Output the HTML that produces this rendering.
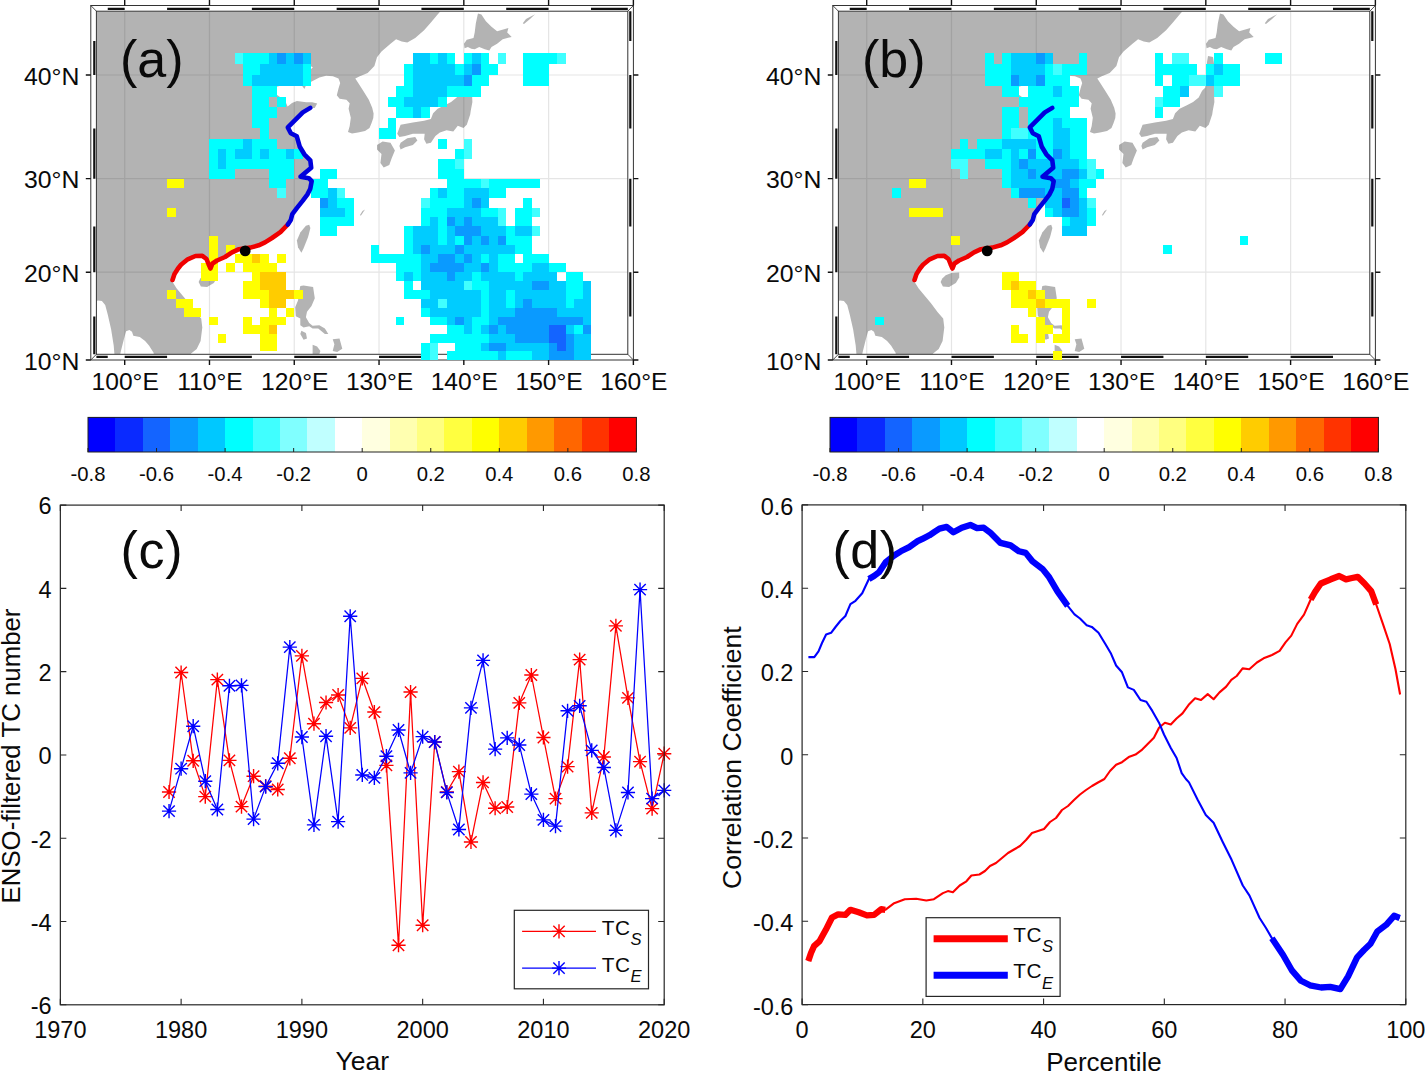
<!DOCTYPE html><html><head><meta charset="utf-8"><style>html,body{margin:0;padding:0;background:#fff;}svg{display:block;}</style></head><body>
<svg width="1425" height="1071" viewBox="0 0 1425 1071" font-family='"Liberation Sans", sans-serif'>
<rect width="1425" height="1071" fill="#fff"/>
<g>
<clipPath id="clipa"><rect x="96.4" y="11.2" width="531.4" height="343.1"/></clipPath>
<g clip-path="url(#clipa)">
<path d="M96.4 11.2 L440.5 11.2 L437.6 14.5 L430.9 22.4 L424.1 30.2 L415.2 38.1 L407.3 42.6 L401.7 41.4 L396.1 39.2 L390.5 43.7 L381.5 51.5 L377 57.2 L374.4 66.1 L367.7 72.9 L359.8 76.2 L355.3 78.5 L357.6 81.9 L363.2 90.8 L368.8 99.8 L372.2 107.7 L373.6 113.5 L373.3 118 L371.4 123.6 L369.5 128 L365 131 L358 132.5 L352 133.5 L348 132 L349.7 126 L350.8 117.8 L348.6 108.8 L349.7 103.2 L346.4 99.8 L339.6 98.7 L336.8 95.3 L338.5 88.6 L340.2 83 L338.5 78.5 L332.9 76.2 L326.1 75.7 L319.4 77.4 L310.7 81.9 L307 83 L304.4 88.9 L301.5 85 L304 76 L310 70 L312.9 67.2 L308 65 L303.6 66.1 L298 70 L292.4 76.2 L283 85 L274.8 87.2 L275.7 93.9 L280 97 L285 100.4 L287.6 106.4 L292 103 L296.9 101 L306.2 102.2 L312.2 102.2 L317.2 103.4 L314.7 108 L310.3 107.9 L302.8 112.4 L295.3 119.9 L287.8 127.4 L290.8 133.3 L296.8 136.3 L299.8 146.8 L304.3 154.3 L310.3 160.3 L311.7 167.7 L305.8 172.2 L299.8 176.7 L308.8 178.2 L311.7 181.2 L310.3 188.7 L307.3 194.6 L302.8 200.6 L296.8 208.1 L292.3 214.1 L290.8 220 L287.8 224.5 L280.4 232 L269.9 239.5 L259.4 245.5 L249 248.4 L240.5 250.1 L233.7 253.5 L224.7 258 L218 260.2 L213 263.6 L210.7 269.2 L209 264.7 L206.8 259.1 L202.3 255.7 L195.5 255.7 L187.7 259.1 L181 264.7 L175.3 272.6 L172 280.4 L173.1 282.7 L176.5 288.3 L182.1 295 L188.8 302.9 L195.5 311.9 L201.2 318.6 L202.3 327.6 L200.6 341.1 L196.7 348.9 L191.1 353.4 L190.5 354.3 L153.8 354.3 L153.6 352.7 L149 345.6 L145.1 341 L139.8 337.1 L133.3 335.8 L132 331.8 L129.4 329.9 L126.1 331.2 L124.8 335.8 L122.8 343.6 L120.5 352.7 L120.3 354.3 L114.4 354.3 L114.3 352.7 L113.7 345.6 L111.1 329.2 L107.8 314.8 L105.2 305 L101.9 301.1 L98 300.5 L96.4 301Z" fill="#b3b3b3"/>
<path d="M466 56 L471 57 L473 70 L473 87 L472 94 L472.4 102 L470.7 111 L470.2 114.6 L466.8 124.7 L463.4 128.1 L457.8 125.8 L453.3 131.4 L446.6 130.3 L439.9 132.6 L435.4 135.9 L430.9 142.7 L426.4 143.8 L424.1 139.3 L424.7 133.7 L419.7 133.7 L412.9 133.7 L405.1 135.9 L399.4 137.1 L397.2 133.7 L400.6 124.7 L412.9 122.5 L424.1 120.8 L430.9 119.1 L433.1 113.3 L437.6 108.8 L444.4 105.4 L451.1 102.1 L456.7 97.6 L460.1 90.8 L463.4 87.5 L464 75 L465 62Z" fill="#b3b3b3"/>
<path d="M478 13.4 L481.4 14.5 L485.9 21.2 L491.5 26.8 L497.1 31.3 L505 29.1 L508.4 28 L507.2 32.5 L511.7 36.9 L502.7 39.2 L497.1 43.7 L491.5 47.1 L489.3 50.4 L484.8 49.3 L479.2 47.1 L474.7 49.3 L471.3 48.7 L467.9 47.1 L464.6 48.2 L464 43.7 L466.8 39.8 L473.5 38.1 L474.7 32.5 L475.8 23.5 L477.5 15.6Z" fill="#b3b3b3"/>
<path d="M400.6 142.7 L407.3 138.2 L415.2 137.1 L417.4 140.4 L412.9 144.9 L405.1 147.2 L400.6 149.4 L399.4 146Z" fill="#b3b3b3"/>
<path d="M377 144.9 L382.6 141.5 L390.5 142.7 L394.9 150.5 L391.6 158.4 L389.3 165.1 L383.7 167.4 L380.4 162.9 L381.5 153.9 L377 149.4Z" fill="#b3b3b3"/>
<path d="M309.2 224.7 L310.4 228.1 L308.1 237.1 L303.6 248.3 L301.4 252.8 L298 247.2 L296.9 240.4 L300.3 232.6 L305.9 225.8Z" fill="#b3b3b3"/>
<path d="M200.3 278.6 L203.7 275.2 L209.3 273 L217.2 272.4 L217.2 277.5 L213.8 283.1 L207.1 287 L200.9 286.5 L198.6 282Z" fill="#b3b3b3"/>
<path d="M300.3 285.9 L303.6 285.4 L313.1 287.1 L314.8 298.3 L311.5 306.1 L307 311.7 L305.9 317.3 L309.2 322.9 L312.6 325.7 L319.3 325.2 L324.9 328.5 L328.3 334.1 L324.9 334.1 L318.2 328.5 L312.6 328.5 L309.2 326.3 L303.6 327.4 L300.3 325.2 L300.3 318.4 L295.8 316.2 L295.2 307.2 L298 300.5 L299.1 292.7Z" fill="#b3b3b3"/>
<path d="M301.4 330.8 L305.9 333 L307 338.6 L303.6 339.7 L300.3 334.1Z" fill="#b3b3b3"/>
<path d="M312.6 344.8 L317.1 346.4 L320.4 350.9 L319.3 354.3 L312.6 354.3Z" fill="#b3b3b3"/>
<path d="M332.7 339.2 L339.5 338.6 L342.3 348.7 L337.2 352 L332.7 350.9 L334.4 344.2Z" fill="#b3b3b3"/>
<path d="M522.8 23.2 L526 19 L535.1 14.2 L530 19 L524 24Z" fill="#b3b3b3"/>
<path d="M360 215 L362.5 211 L365 209.5 L363 212.5 L360.8 215.8Z" fill="#b3b3b3"/>
<path d="M124.7 11.2V354.3 M209.48 11.2V354.3 M294.26 11.2V354.3 M379.04 11.2V354.3 M463.82 11.2V354.3 M548.6 11.2V354.3 M96.4 272.22H627.8 M96.4 178.63H627.8 M96.4 75.01H627.8" stroke="#262626" stroke-width="1.2" fill="none" opacity="0.12"/>
</g>
<rect x="90.8" y="5.5" width="542.6" height="354.5" fill="none" stroke="#333" stroke-width="1"/>
<rect x="96.4" y="11.2" width="531.4" height="343.1" fill="none" stroke="#333" stroke-width="1"/>
<path d="M96.4 356.9H107.74 M124.7 356.9H167.09 M209.48 356.9H251.87 M294.26 356.9H336.65 M379.04 356.9H421.43 M463.82 356.9H506.21 M548.6 356.9H590.99 M107.74 8.8H124.7 M167.09 8.8H209.48 M251.87 8.8H294.26 M336.65 8.8H379.04 M421.43 8.8H463.82 M506.21 8.8H548.6 M590.99 8.8H627.8 M94.3 354.3V316.62 M94.3 272.22V226.38 M94.3 178.63V128.41 M94.3 75.01V41.09 M630.3 316.62V272.22 M630.3 226.38V178.63 M630.3 128.41V75.01 M630.3 41.09V11.2" stroke="#111" stroke-width="2.2" fill="none"/>
<path d="M90.8 5.5L96.4 11.2 M633.4 5.5L627.8 11.2 M90.8 360L96.4 354.3 M633.4 360L627.8 354.3" stroke="#3a3a3a" stroke-width="0.9"/>
<path d="M124.7 360V365 M124.7 5.5V0 M209.48 360V365 M209.48 5.5V0 M294.26 360V365 M294.26 5.5V0 M379.04 360V365 M379.04 5.5V0 M463.82 360V365 M463.82 5.5V0 M548.6 360V365 M548.6 5.5V0 M633.38 360V365 M633.38 5.5V0 M90.8 360H85.8 M633.4 360H638.4 M90.8 272.22H85.8 M633.4 272.22H638.4 M90.8 178.63H85.8 M633.4 178.63H638.4 M90.8 75.01H85.8 M633.4 75.01H638.4" stroke="#111" stroke-width="1.4" fill="none"/>
</g>
<g><path d="M234.91 52.57H243.39V63.88H234.91ZM277.3 188.36H285.78V197.99H277.3ZM336.65 188.36H345.13V197.99H336.65ZM497.73 52.57H506.21V63.88H497.73ZM557.08 52.57H565.56V63.88H557.08ZM463.82 138.68H472.3V148.84H463.82ZM463.82 148.84H472.3V158.87H463.82ZM455.34 158.87H463.82V168.8H455.34ZM480.78 178.63H489.25V188.36H480.78ZM421.43 197.99H429.91V207.54H421.43ZM497.73 207.54H506.21V217H497.73ZM531.64 207.54H540.12V217H531.64ZM497.73 217H506.21V226.38H497.73ZM531.64 226.38H540.12V235.68H531.64ZM463.82 281.2H472.3V290.13H463.82ZM438.39 299.01H446.86V307.84H438.39ZM429.91 342.75H438.39V351.39H429.91ZM429.91 351.39H438.39V360H429.91Z" fill="#40ffff" shape-rendering="crispEdges"/><path d="M243.39 52.57H251.87V63.88H243.39ZM251.87 52.57H260.35V63.88H251.87ZM260.35 52.57H268.83V63.88H260.35ZM243.39 63.88H251.87V75.01H243.39ZM251.87 63.88H260.35V75.01H251.87ZM302.74 63.88H311.22V75.01H302.74ZM243.39 75.01H251.87V85.98H243.39ZM302.74 75.01H311.22V85.98H302.74ZM251.87 85.98H260.35V96.8H251.87ZM260.35 85.98H268.83V96.8H260.35ZM268.83 85.98H277.3V96.8H268.83ZM251.87 96.8H260.35V107.48H251.87ZM260.35 96.8H268.83V107.48H260.35ZM277.3 96.8H285.78V107.48H277.3ZM251.87 107.48H260.35V118.01H251.87ZM260.35 107.48H268.83V118.01H260.35ZM268.83 107.48H277.3V118.01H268.83ZM251.87 118.01H260.35V128.41H251.87ZM260.35 118.01H268.83V128.41H260.35ZM260.35 128.41H268.83V138.68H260.35ZM209.48 138.68H217.96V148.84H209.48ZM217.96 138.68H226.44V148.84H217.96ZM226.44 138.68H234.91V148.84H226.44ZM234.91 138.68H243.39V148.84H234.91ZM251.87 138.68H260.35V148.84H251.87ZM260.35 138.68H268.83V148.84H260.35ZM268.83 138.68H277.3V148.84H268.83ZM209.48 148.84H217.96V158.87H209.48ZM226.44 148.84H234.91V158.87H226.44ZM251.87 148.84H260.35V158.87H251.87ZM268.83 148.84H277.3V158.87H268.83ZM277.3 148.84H285.78V158.87H277.3ZM294.26 148.84H302.74V158.87H294.26ZM209.48 158.87H217.96V168.8H209.48ZM226.44 158.87H234.91V168.8H226.44ZM234.91 158.87H243.39V168.8H234.91ZM243.39 158.87H251.87V168.8H243.39ZM251.87 158.87H260.35V168.8H251.87ZM260.35 158.87H268.83V168.8H260.35ZM268.83 158.87H277.3V168.8H268.83ZM277.3 158.87H285.78V168.8H277.3ZM285.78 158.87H294.26V168.8H285.78ZM209.48 168.8H217.96V178.63H209.48ZM217.96 168.8H226.44V178.63H217.96ZM226.44 168.8H234.91V178.63H226.44ZM268.83 168.8H277.3V178.63H268.83ZM277.3 168.8H285.78V178.63H277.3ZM285.78 168.8H294.26V178.63H285.78ZM268.83 178.63H277.3V188.36H268.83ZM277.3 178.63H285.78V188.36H277.3ZM319.69 168.8H328.17V178.63H319.69ZM328.17 168.8H336.65V178.63H328.17ZM311.22 178.63H319.69V188.36H311.22ZM319.69 178.63H328.17V188.36H319.69ZM311.22 188.36H319.69V197.99H311.22ZM319.69 188.36H328.17V197.99H319.69ZM336.65 197.99H345.13V207.54H336.65ZM345.13 197.99H353.61V207.54H345.13ZM345.13 207.54H353.61V217H345.13ZM319.69 217H328.17V226.38H319.69ZM328.17 217H336.65V226.38H328.17ZM336.65 217H345.13V226.38H336.65ZM345.13 217H353.61V226.38H345.13ZM319.69 226.38H328.17V235.68H319.69ZM328.17 226.38H336.65V235.68H328.17ZM429.91 52.57H438.39V63.88H429.91ZM446.86 52.57H455.34V63.88H446.86ZM463.82 52.57H472.3V63.88H463.82ZM480.78 52.57H489.25V63.88H480.78ZM523.17 52.57H531.64V63.88H523.17ZM531.64 52.57H540.12V63.88H531.64ZM540.12 52.57H548.6V63.88H540.12ZM548.6 52.57H557.08V63.88H548.6ZM404.47 63.88H412.95V75.01H404.47ZM455.34 63.88H463.82V75.01H455.34ZM480.78 63.88H489.25V75.01H480.78ZM489.25 63.88H497.73V75.01H489.25ZM523.17 63.88H531.64V75.01H523.17ZM531.64 63.88H540.12V75.01H531.64ZM540.12 63.88H548.6V75.01H540.12ZM404.47 75.01H412.95V85.98H404.47ZM472.3 75.01H480.78V85.98H472.3ZM480.78 75.01H489.25V85.98H480.78ZM523.17 75.01H531.64V85.98H523.17ZM531.64 75.01H540.12V85.98H531.64ZM540.12 75.01H548.6V85.98H540.12ZM396 85.98H404.47V96.8H396ZM404.47 85.98H412.95V96.8H404.47ZM446.86 85.98H455.34V96.8H446.86ZM455.34 85.98H463.82V96.8H455.34ZM463.82 85.98H472.3V96.8H463.82ZM472.3 85.98H480.78V96.8H472.3ZM387.52 96.8H396V107.48H387.52ZM396 96.8H404.47V107.48H396ZM438.39 96.8H446.86V107.48H438.39ZM396 107.48H404.47V118.01H396ZM404.47 107.48H412.95V118.01H404.47ZM421.43 107.48H429.91V118.01H421.43ZM387.52 118.01H396V128.41H387.52ZM379.04 128.41H387.52V138.68H379.04ZM387.52 128.41H396V138.68H387.52ZM438.39 138.68H446.86V148.84H438.39ZM455.34 148.84H463.82V158.87H455.34ZM438.39 158.87H446.86V168.8H438.39ZM446.86 158.87H455.34V168.8H446.86ZM438.39 168.8H446.86V178.63H438.39ZM446.86 168.8H455.34V178.63H446.86ZM455.34 168.8H463.82V178.63H455.34ZM446.86 178.63H455.34V188.36H446.86ZM455.34 178.63H463.82V188.36H455.34ZM463.82 178.63H472.3V188.36H463.82ZM472.3 178.63H480.78V188.36H472.3ZM489.25 178.63H497.73V188.36H489.25ZM497.73 178.63H506.21V188.36H497.73ZM506.21 178.63H514.69V188.36H506.21ZM514.69 178.63H523.17V188.36H514.69ZM523.17 178.63H531.64V188.36H523.17ZM531.64 178.63H540.12V188.36H531.64ZM429.91 188.36H438.39V197.99H429.91ZM446.86 188.36H455.34V197.99H446.86ZM455.34 188.36H463.82V197.99H455.34ZM489.25 188.36H497.73V197.99H489.25ZM497.73 188.36H506.21V197.99H497.73ZM429.91 197.99H438.39V207.54H429.91ZM438.39 197.99H446.86V207.54H438.39ZM446.86 197.99H455.34V207.54H446.86ZM455.34 197.99H463.82V207.54H455.34ZM523.17 197.99H531.64V207.54H523.17ZM421.43 207.54H429.91V217H421.43ZM429.91 207.54H438.39V217H429.91ZM438.39 207.54H446.86V217H438.39ZM480.78 207.54H489.25V217H480.78ZM489.25 207.54H497.73V217H489.25ZM514.69 207.54H523.17V217H514.69ZM523.17 207.54H531.64V217H523.17ZM421.43 217H429.91V226.38H421.43ZM438.39 217H446.86V226.38H438.39ZM514.69 217H523.17V226.38H514.69ZM523.17 217H531.64V226.38H523.17ZM404.47 226.38H412.95V235.68H404.47ZM438.39 226.38H446.86V235.68H438.39ZM506.21 226.38H514.69V235.68H506.21ZM404.47 235.68H412.95V244.92H404.47ZM438.39 235.68H446.86V244.92H438.39ZM455.34 235.68H463.82V244.92H455.34ZM506.21 235.68H514.69V244.92H506.21ZM514.69 235.68H523.17V244.92H514.69ZM523.17 235.68H531.64V244.92H523.17ZM370.56 244.92H379.04V254.08H370.56ZM404.47 244.92H412.95V254.08H404.47ZM514.69 244.92H523.17V254.08H514.69ZM523.17 244.92H531.64V254.08H523.17ZM370.56 254.08H379.04V263.18H370.56ZM379.04 254.08H387.52V263.18H379.04ZM387.52 254.08H396V263.18H387.52ZM396 254.08H404.47V263.18H396ZM404.47 254.08H412.95V263.18H404.47ZM412.95 254.08H421.43V263.18H412.95ZM480.78 254.08H489.25V263.18H480.78ZM497.73 254.08H506.21V263.18H497.73ZM506.21 254.08H514.69V263.18H506.21ZM523.17 254.08H531.64V263.18H523.17ZM531.64 254.08H540.12V263.18H531.64ZM540.12 254.08H548.6V263.18H540.12ZM396 263.18H404.47V272.22H396ZM404.47 263.18H412.95V272.22H404.47ZM412.95 263.18H421.43V272.22H412.95ZM497.73 263.18H506.21V272.22H497.73ZM506.21 263.18H514.69V272.22H506.21ZM514.69 263.18H523.17V272.22H514.69ZM523.17 263.18H531.64V272.22H523.17ZM548.6 263.18H557.08V272.22H548.6ZM557.08 263.18H565.56V272.22H557.08ZM396 272.22H404.47V281.2H396ZM412.95 272.22H421.43V281.2H412.95ZM472.3 272.22H480.78V281.2H472.3ZM514.69 272.22H523.17V281.2H514.69ZM565.56 272.22H574.03V281.2H565.56ZM574.03 272.22H582.51V281.2H574.03ZM404.47 281.2H412.95V290.13H404.47ZM472.3 281.2H480.78V290.13H472.3ZM480.78 281.2H489.25V290.13H480.78ZM565.56 281.2H574.03V290.13H565.56ZM574.03 281.2H582.51V290.13H574.03ZM404.47 290.13H412.95V299.01H404.47ZM412.95 290.13H421.43V299.01H412.95ZM421.43 290.13H429.91V299.01H421.43ZM480.78 290.13H489.25V299.01H480.78ZM506.21 290.13H514.69V299.01H506.21ZM565.56 290.13H574.03V299.01H565.56ZM574.03 290.13H582.51V299.01H574.03ZM480.78 299.01H489.25V307.84H480.78ZM506.21 299.01H514.69V307.84H506.21ZM565.56 299.01H574.03V307.84H565.56ZM421.43 307.84H429.91V316.62H421.43ZM480.78 307.84H489.25V316.62H480.78ZM396 316.62H404.47V325.37H396ZM429.91 316.62H438.39V325.37H429.91ZM438.39 316.62H446.86V325.37H438.39ZM472.3 316.62H480.78V325.37H472.3ZM480.78 316.62H489.25V325.37H480.78ZM446.86 325.37H455.34V334.08H446.86ZM455.34 325.37H463.82V334.08H455.34ZM472.3 325.37H480.78V334.08H472.3ZM574.03 325.37H582.51V334.08H574.03ZM429.91 334.08H438.39V342.75H429.91ZM438.39 334.08H446.86V342.75H438.39ZM446.86 334.08H455.34V342.75H446.86ZM455.34 334.08H463.82V342.75H455.34ZM463.82 334.08H472.3V342.75H463.82ZM472.3 334.08H480.78V342.75H472.3ZM480.78 334.08H489.25V342.75H480.78ZM421.43 342.75H429.91V351.39H421.43ZM455.34 342.75H463.82V351.39H455.34ZM463.82 342.75H472.3V351.39H463.82ZM472.3 342.75H480.78V351.39H472.3ZM421.43 351.39H429.91V360H421.43ZM446.86 351.39H455.34V360H446.86ZM455.34 351.39H463.82V360H455.34ZM463.82 351.39H472.3V360H463.82ZM472.3 351.39H480.78V360H472.3ZM480.78 351.39H489.25V360H480.78ZM489.25 351.39H497.73V360H489.25ZM506.21 351.39H514.69V360H506.21ZM514.69 351.39H523.17V360H514.69ZM523.17 351.39H531.64V360H523.17Z" fill="#00ffff" shape-rendering="crispEdges"/><path d="M268.83 52.57H277.3V63.88H268.83ZM285.78 52.57H294.26V63.88H285.78ZM302.74 52.57H311.22V63.88H302.74ZM260.35 63.88H268.83V75.01H260.35ZM268.83 63.88H277.3V75.01H268.83ZM277.3 63.88H285.78V75.01H277.3ZM285.78 63.88H294.26V75.01H285.78ZM294.26 63.88H302.74V75.01H294.26ZM251.87 75.01H260.35V85.98H251.87ZM260.35 75.01H268.83V85.98H260.35ZM268.83 75.01H277.3V85.98H268.83ZM277.3 75.01H285.78V85.98H277.3ZM285.78 75.01H294.26V85.98H285.78ZM294.26 75.01H302.74V85.98H294.26ZM243.39 138.68H251.87V148.84H243.39ZM217.96 148.84H226.44V158.87H217.96ZM234.91 148.84H243.39V158.87H234.91ZM243.39 148.84H251.87V158.87H243.39ZM260.35 148.84H268.83V158.87H260.35ZM285.78 148.84H294.26V158.87H285.78ZM217.96 158.87H226.44V168.8H217.96ZM328.17 188.36H336.65V197.99H328.17ZM328.17 197.99H336.65V207.54H328.17ZM319.69 207.54H328.17V217H319.69ZM328.17 207.54H336.65V217H328.17ZM336.65 207.54H345.13V217H336.65ZM412.95 52.57H421.43V63.88H412.95ZM421.43 52.57H429.91V63.88H421.43ZM438.39 52.57H446.86V63.88H438.39ZM472.3 52.57H480.78V63.88H472.3ZM412.95 63.88H421.43V75.01H412.95ZM421.43 63.88H429.91V75.01H421.43ZM429.91 63.88H438.39V75.01H429.91ZM438.39 63.88H446.86V75.01H438.39ZM446.86 63.88H455.34V75.01H446.86ZM463.82 63.88H472.3V75.01H463.82ZM412.95 75.01H421.43V85.98H412.95ZM421.43 75.01H429.91V85.98H421.43ZM429.91 75.01H438.39V85.98H429.91ZM438.39 75.01H446.86V85.98H438.39ZM446.86 75.01H455.34V85.98H446.86ZM455.34 75.01H463.82V85.98H455.34ZM412.95 85.98H421.43V96.8H412.95ZM421.43 85.98H429.91V96.8H421.43ZM429.91 85.98H438.39V96.8H429.91ZM438.39 85.98H446.86V96.8H438.39ZM404.47 96.8H412.95V107.48H404.47ZM412.95 96.8H421.43V107.48H412.95ZM421.43 96.8H429.91V107.48H421.43ZM429.91 96.8H438.39V107.48H429.91ZM412.95 107.48H421.43V118.01H412.95ZM438.39 188.36H446.86V197.99H438.39ZM463.82 188.36H472.3V197.99H463.82ZM472.3 188.36H480.78V197.99H472.3ZM480.78 188.36H489.25V197.99H480.78ZM463.82 197.99H472.3V207.54H463.82ZM480.78 197.99H489.25V207.54H480.78ZM446.86 207.54H455.34V217H446.86ZM455.34 207.54H463.82V217H455.34ZM463.82 207.54H472.3V217H463.82ZM472.3 207.54H480.78V217H472.3ZM429.91 217H438.39V226.38H429.91ZM455.34 217H463.82V226.38H455.34ZM472.3 217H480.78V226.38H472.3ZM480.78 217H489.25V226.38H480.78ZM489.25 217H497.73V226.38H489.25ZM412.95 226.38H421.43V235.68H412.95ZM421.43 226.38H429.91V235.68H421.43ZM429.91 226.38H438.39V235.68H429.91ZM446.86 226.38H455.34V235.68H446.86ZM480.78 226.38H489.25V235.68H480.78ZM489.25 226.38H497.73V235.68H489.25ZM497.73 226.38H506.21V235.68H497.73ZM514.69 226.38H523.17V235.68H514.69ZM523.17 226.38H531.64V235.68H523.17ZM412.95 235.68H421.43V244.92H412.95ZM421.43 235.68H429.91V244.92H421.43ZM429.91 235.68H438.39V244.92H429.91ZM446.86 235.68H455.34V244.92H446.86ZM472.3 235.68H480.78V244.92H472.3ZM489.25 235.68H497.73V244.92H489.25ZM412.95 244.92H421.43V254.08H412.95ZM429.91 244.92H438.39V254.08H429.91ZM438.39 244.92H446.86V254.08H438.39ZM446.86 244.92H455.34V254.08H446.86ZM463.82 244.92H472.3V254.08H463.82ZM472.3 244.92H480.78V254.08H472.3ZM480.78 244.92H489.25V254.08H480.78ZM489.25 244.92H497.73V254.08H489.25ZM497.73 244.92H506.21V254.08H497.73ZM506.21 244.92H514.69V254.08H506.21ZM421.43 254.08H429.91V263.18H421.43ZM429.91 254.08H438.39V263.18H429.91ZM455.34 254.08H463.82V263.18H455.34ZM472.3 254.08H480.78V263.18H472.3ZM489.25 254.08H497.73V263.18H489.25ZM421.43 263.18H429.91V272.22H421.43ZM463.82 263.18H472.3V272.22H463.82ZM472.3 263.18H480.78V272.22H472.3ZM489.25 263.18H497.73V272.22H489.25ZM531.64 263.18H540.12V272.22H531.64ZM540.12 263.18H548.6V272.22H540.12ZM404.47 272.22H412.95V281.2H404.47ZM421.43 272.22H429.91V281.2H421.43ZM429.91 272.22H438.39V281.2H429.91ZM438.39 272.22H446.86V281.2H438.39ZM455.34 272.22H463.82V281.2H455.34ZM463.82 272.22H472.3V281.2H463.82ZM480.78 272.22H489.25V281.2H480.78ZM489.25 272.22H497.73V281.2H489.25ZM497.73 272.22H506.21V281.2H497.73ZM506.21 272.22H514.69V281.2H506.21ZM523.17 272.22H531.64V281.2H523.17ZM531.64 272.22H540.12V281.2H531.64ZM540.12 272.22H548.6V281.2H540.12ZM548.6 272.22H557.08V281.2H548.6ZM421.43 281.2H429.91V290.13H421.43ZM429.91 281.2H438.39V290.13H429.91ZM438.39 281.2H446.86V290.13H438.39ZM446.86 281.2H455.34V290.13H446.86ZM455.34 281.2H463.82V290.13H455.34ZM489.25 281.2H497.73V290.13H489.25ZM497.73 281.2H506.21V290.13H497.73ZM506.21 281.2H514.69V290.13H506.21ZM514.69 281.2H523.17V290.13H514.69ZM523.17 281.2H531.64V290.13H523.17ZM548.6 281.2H557.08V290.13H548.6ZM557.08 281.2H565.56V290.13H557.08ZM582.51 281.2H590.99V290.13H582.51ZM429.91 290.13H438.39V299.01H429.91ZM438.39 290.13H446.86V299.01H438.39ZM446.86 290.13H455.34V299.01H446.86ZM455.34 290.13H463.82V299.01H455.34ZM463.82 290.13H472.3V299.01H463.82ZM472.3 290.13H480.78V299.01H472.3ZM489.25 290.13H497.73V299.01H489.25ZM497.73 290.13H506.21V299.01H497.73ZM514.69 290.13H523.17V299.01H514.69ZM523.17 290.13H531.64V299.01H523.17ZM531.64 290.13H540.12V299.01H531.64ZM540.12 290.13H548.6V299.01H540.12ZM548.6 290.13H557.08V299.01H548.6ZM557.08 290.13H565.56V299.01H557.08ZM582.51 290.13H590.99V299.01H582.51ZM421.43 299.01H429.91V307.84H421.43ZM429.91 299.01H438.39V307.84H429.91ZM446.86 299.01H455.34V307.84H446.86ZM455.34 299.01H463.82V307.84H455.34ZM463.82 299.01H472.3V307.84H463.82ZM472.3 299.01H480.78V307.84H472.3ZM489.25 299.01H497.73V307.84H489.25ZM497.73 299.01H506.21V307.84H497.73ZM514.69 299.01H523.17V307.84H514.69ZM531.64 299.01H540.12V307.84H531.64ZM540.12 299.01H548.6V307.84H540.12ZM548.6 299.01H557.08V307.84H548.6ZM557.08 299.01H565.56V307.84H557.08ZM574.03 299.01H582.51V307.84H574.03ZM582.51 299.01H590.99V307.84H582.51ZM429.91 307.84H438.39V316.62H429.91ZM438.39 307.84H446.86V316.62H438.39ZM446.86 307.84H455.34V316.62H446.86ZM455.34 307.84H463.82V316.62H455.34ZM463.82 307.84H472.3V316.62H463.82ZM472.3 307.84H480.78V316.62H472.3ZM489.25 307.84H497.73V316.62H489.25ZM497.73 307.84H506.21V316.62H497.73ZM506.21 307.84H514.69V316.62H506.21ZM557.08 307.84H565.56V316.62H557.08ZM565.56 307.84H574.03V316.62H565.56ZM574.03 307.84H582.51V316.62H574.03ZM582.51 307.84H590.99V316.62H582.51ZM446.86 316.62H455.34V325.37H446.86ZM463.82 316.62H472.3V325.37H463.82ZM489.25 316.62H497.73V325.37H489.25ZM582.51 316.62H590.99V325.37H582.51ZM463.82 325.37H472.3V334.08H463.82ZM480.78 325.37H489.25V334.08H480.78ZM497.73 325.37H506.21V334.08H497.73ZM565.56 325.37H574.03V334.08H565.56ZM489.25 334.08H497.73V342.75H489.25ZM497.73 334.08H506.21V342.75H497.73ZM506.21 334.08H514.69V342.75H506.21ZM574.03 334.08H582.51V342.75H574.03ZM582.51 334.08H590.99V342.75H582.51ZM480.78 342.75H489.25V351.39H480.78ZM506.21 342.75H514.69V351.39H506.21ZM514.69 342.75H523.17V351.39H514.69ZM523.17 342.75H531.64V351.39H523.17ZM531.64 342.75H540.12V351.39H531.64ZM540.12 342.75H548.6V351.39H540.12ZM574.03 342.75H582.51V351.39H574.03ZM582.51 342.75H590.99V351.39H582.51ZM497.73 351.39H506.21V360H497.73ZM531.64 351.39H540.12V360H531.64ZM540.12 351.39H548.6V360H540.12ZM574.03 351.39H582.51V360H574.03ZM582.51 351.39H590.99V360H582.51Z" fill="#00ccff" shape-rendering="crispEdges"/><path d="M277.3 52.57H285.78V63.88H277.3ZM294.26 52.57H302.74V63.88H294.26ZM319.69 197.99H328.17V207.54H319.69ZM472.3 63.88H480.78V75.01H472.3ZM463.82 75.01H472.3V85.98H463.82ZM472.3 197.99H480.78V207.54H472.3ZM446.86 217H455.34V226.38H446.86ZM463.82 217H472.3V226.38H463.82ZM455.34 226.38H463.82V235.68H455.34ZM463.82 226.38H472.3V235.68H463.82ZM472.3 226.38H480.78V235.68H472.3ZM463.82 235.68H472.3V244.92H463.82ZM480.78 235.68H489.25V244.92H480.78ZM497.73 235.68H506.21V244.92H497.73ZM421.43 244.92H429.91V254.08H421.43ZM455.34 244.92H463.82V254.08H455.34ZM438.39 254.08H446.86V263.18H438.39ZM446.86 254.08H455.34V263.18H446.86ZM463.82 254.08H472.3V263.18H463.82ZM429.91 263.18H438.39V272.22H429.91ZM438.39 263.18H446.86V272.22H438.39ZM446.86 263.18H455.34V272.22H446.86ZM455.34 263.18H463.82V272.22H455.34ZM480.78 263.18H489.25V272.22H480.78ZM446.86 272.22H455.34V281.2H446.86ZM531.64 281.2H540.12V290.13H531.64ZM540.12 281.2H548.6V290.13H540.12ZM523.17 299.01H531.64V307.84H523.17ZM514.69 307.84H523.17V316.62H514.69ZM523.17 307.84H531.64V316.62H523.17ZM531.64 307.84H540.12V316.62H531.64ZM540.12 307.84H548.6V316.62H540.12ZM548.6 307.84H557.08V316.62H548.6ZM455.34 316.62H463.82V325.37H455.34ZM497.73 316.62H506.21V325.37H497.73ZM506.21 316.62H514.69V325.37H506.21ZM514.69 316.62H523.17V325.37H514.69ZM523.17 316.62H531.64V325.37H523.17ZM531.64 316.62H540.12V325.37H531.64ZM540.12 316.62H548.6V325.37H540.12ZM548.6 316.62H557.08V325.37H548.6ZM557.08 316.62H565.56V325.37H557.08ZM565.56 316.62H574.03V325.37H565.56ZM574.03 316.62H582.51V325.37H574.03ZM489.25 325.37H497.73V334.08H489.25ZM506.21 325.37H514.69V334.08H506.21ZM514.69 325.37H523.17V334.08H514.69ZM523.17 325.37H531.64V334.08H523.17ZM531.64 325.37H540.12V334.08H531.64ZM540.12 325.37H548.6V334.08H540.12ZM582.51 325.37H590.99V334.08H582.51ZM514.69 334.08H523.17V342.75H514.69ZM523.17 334.08H531.64V342.75H523.17ZM531.64 334.08H540.12V342.75H531.64ZM540.12 334.08H548.6V342.75H540.12ZM565.56 334.08H574.03V342.75H565.56ZM489.25 342.75H497.73V351.39H489.25ZM497.73 342.75H506.21V351.39H497.73ZM548.6 342.75H557.08V351.39H548.6ZM565.56 342.75H574.03V351.39H565.56ZM548.6 351.39H557.08V360H548.6ZM557.08 351.39H565.56V360H557.08ZM565.56 351.39H574.03V360H565.56Z" fill="#0a9aff" shape-rendering="crispEdges"/><path d="M548.6 325.37H557.08V334.08H548.6ZM557.08 325.37H565.56V334.08H557.08ZM548.6 334.08H557.08V342.75H548.6ZM557.08 334.08H565.56V342.75H557.08ZM557.08 342.75H565.56V351.39H557.08Z" fill="#1464ff" shape-rendering="crispEdges"/><path d="M167.09 178.63H175.57V188.36H167.09ZM175.57 178.63H184.05V188.36H175.57ZM167.09 207.54H175.57V217H167.09ZM209.48 235.68H217.96V244.92H209.48ZM209.48 244.92H217.96V254.08H209.48ZM226.44 244.92H234.91V254.08H226.44ZM209.48 254.08H217.96V263.18H209.48ZM234.91 254.08H243.39V263.18H234.91ZM243.39 254.08H251.87V263.18H243.39ZM260.35 254.08H268.83V263.18H260.35ZM277.3 254.08H285.78V263.18H277.3ZM201 263.18H209.48V272.22H201ZM209.48 263.18H217.96V272.22H209.48ZM226.44 263.18H234.91V272.22H226.44ZM243.39 263.18H251.87V272.22H243.39ZM251.87 263.18H260.35V272.22H251.87ZM260.35 263.18H268.83V272.22H260.35ZM268.83 263.18H277.3V272.22H268.83ZM201 272.22H209.48V281.2H201ZM209.48 272.22H217.96V281.2H209.48ZM251.87 272.22H260.35V281.2H251.87ZM243.39 281.2H251.87V290.13H243.39ZM251.87 281.2H260.35V290.13H251.87ZM167.09 290.13H175.57V299.01H167.09ZM243.39 290.13H251.87V299.01H243.39ZM251.87 290.13H260.35V299.01H251.87ZM260.35 290.13H268.83V299.01H260.35ZM294.26 290.13H302.74V299.01H294.26ZM175.57 299.01H184.05V307.84H175.57ZM184.05 299.01H192.52V307.84H184.05ZM260.35 299.01H268.83V307.84H260.35ZM184.05 307.84H192.52V316.62H184.05ZM192.52 307.84H201V316.62H192.52ZM268.83 307.84H277.3V316.62H268.83ZM285.78 307.84H294.26V316.62H285.78ZM209.48 316.62H217.96V325.37H209.48ZM243.39 316.62H251.87V325.37H243.39ZM260.35 316.62H268.83V325.37H260.35ZM268.83 316.62H277.3V325.37H268.83ZM277.3 316.62H285.78V325.37H277.3ZM243.39 325.37H251.87V334.08H243.39ZM251.87 325.37H260.35V334.08H251.87ZM260.35 325.37H268.83V334.08H260.35ZM217.96 334.08H226.44V342.75H217.96ZM260.35 334.08H268.83V342.75H260.35ZM268.83 334.08H277.3V342.75H268.83ZM260.35 342.75H268.83V351.39H260.35ZM268.83 342.75H277.3V351.39H268.83Z" fill="#ffff00" shape-rendering="crispEdges"/><path d="M251.87 254.08H260.35V263.18H251.87ZM260.35 272.22H268.83V281.2H260.35ZM268.83 272.22H277.3V281.2H268.83ZM277.3 272.22H285.78V281.2H277.3ZM260.35 281.2H268.83V290.13H260.35ZM268.83 281.2H277.3V290.13H268.83ZM277.3 281.2H285.78V290.13H277.3ZM268.83 290.13H277.3V299.01H268.83ZM277.3 290.13H285.78V299.01H277.3ZM285.78 290.13H294.26V299.01H285.78ZM268.83 299.01H277.3V307.84H268.83ZM277.3 299.01H285.78V307.84H277.3ZM268.83 325.37H277.3V334.08H268.83Z" fill="#ffcc00" shape-rendering="crispEdges"/></g>
<path d="M172.5 280 L174.5 274 L178 268.5 L181 264.7 L187.7 259.3 L195.5 256 L202.3 255.8 L206.5 259 L208.5 264 L210.5 268.5 L212.5 263.5 L217 260.5 L225 257 L232 252.4 L239 249.2 L245 248.2 L250.3 247.6 L258.7 245.3 L265 242.4 L272 238 L280.4 232.2 L287.8 224.5" fill="none" stroke="#f00000" stroke-width="4.6" stroke-linejoin="round" stroke-linecap="round"/>
<path d="M287.8 224.5 L290.8 220 L292.3 214.1 L296.8 208.1 L302.8 200.6 L307.3 194.6 L310.3 188.7 L311.7 181.2 L308.8 178.2 L300.5 176.7 L305.8 172.2 L311.2 167.7 L310.3 160.3 L304.3 154.3 L299.8 146.8 L296.8 136.3 L290.8 133.3 L287.8 127.4 L295.3 119.9 L302.8 112.4 L310.3 107.9" fill="none" stroke="#0000dd" stroke-width="4.6" stroke-linejoin="round" stroke-linecap="round"/>
<circle cx="245.2" cy="250.9" r="5.4" fill="#000"/>
<g font-family='"Liberation Sans", sans-serif' fill="#0a0a0a">
<text x="79.3" y="369.5" font-size="24.8" text-anchor="end">10°N</text>
<text x="79.3" y="281.72" font-size="24.8" text-anchor="end">20°N</text>
<text x="79.3" y="188.13" font-size="24.8" text-anchor="end">30°N</text>
<text x="79.3" y="84.51" font-size="24.8" text-anchor="end">40°N</text>
<text x="125.2" y="390" font-size="24.6" text-anchor="middle">100°E</text>
<text x="209.98" y="390" font-size="24.6" text-anchor="middle">110°E</text>
<text x="294.76" y="390" font-size="24.6" text-anchor="middle">120°E</text>
<text x="379.54" y="390" font-size="24.6" text-anchor="middle">130°E</text>
<text x="464.32" y="390" font-size="24.6" text-anchor="middle">140°E</text>
<text x="549.1" y="390" font-size="24.6" text-anchor="middle">150°E</text>
<text x="633.88" y="390" font-size="24.6" text-anchor="middle">160°E</text>
<text x="120" y="77.2" font-size="52">(a)</text>
</g>
<g shape-rendering="crispEdges"><rect x="88" y="417.4" width="27.72" height="34.6" fill="#0000ff"/><rect x="115.42" y="417.4" width="27.72" height="34.6" fill="#0a2aff"/><rect x="142.84" y="417.4" width="27.72" height="34.6" fill="#1464ff"/><rect x="170.26" y="417.4" width="27.72" height="34.6" fill="#0a9aff"/><rect x="197.68" y="417.4" width="27.72" height="34.6" fill="#00c8ff"/><rect x="225.1" y="417.4" width="27.72" height="34.6" fill="#00ffff"/><rect x="252.52" y="417.4" width="27.72" height="34.6" fill="#40ffff"/><rect x="279.94" y="417.4" width="27.72" height="34.6" fill="#80ffff"/><rect x="307.36" y="417.4" width="27.72" height="34.6" fill="#c0ffff"/><rect x="334.78" y="417.4" width="27.72" height="34.6" fill="#ffffff"/><rect x="362.2" y="417.4" width="27.72" height="34.6" fill="#ffffe0"/><rect x="389.62" y="417.4" width="27.72" height="34.6" fill="#ffffb0"/><rect x="417.04" y="417.4" width="27.72" height="34.6" fill="#ffff80"/><rect x="444.46" y="417.4" width="27.72" height="34.6" fill="#ffff40"/><rect x="471.88" y="417.4" width="27.72" height="34.6" fill="#ffff00"/><rect x="499.3" y="417.4" width="27.72" height="34.6" fill="#ffcc00"/><rect x="526.72" y="417.4" width="27.72" height="34.6" fill="#ff9900"/><rect x="554.14" y="417.4" width="27.72" height="34.6" fill="#ff6600"/><rect x="581.56" y="417.4" width="27.72" height="34.6" fill="#ff3300"/><rect x="608.98" y="417.4" width="27.72" height="34.6" fill="#ff0000"/></g>
<rect x="88" y="417.4" width="548.4" height="34.6" fill="none" stroke="#222" stroke-width="1"/>
<path d="M88 452V448 M156.55 452V448 M225.1 452V448 M293.65 452V448 M362.2 452V448 M430.75 452V448 M499.3 452V448 M567.85 452V448 M636.4 452V448" stroke="#222" stroke-width="1"/>
<g font-family='"Liberation Sans", sans-serif' font-size="20.3" fill="#0a0a0a"><text x="88" y="481.3" text-anchor="middle">-0.8</text><text x="156.55" y="481.3" text-anchor="middle">-0.6</text><text x="225.1" y="481.3" text-anchor="middle">-0.4</text><text x="293.65" y="481.3" text-anchor="middle">-0.2</text><text x="362.2" y="481.3" text-anchor="middle">0</text><text x="430.75" y="481.3" text-anchor="middle">0.2</text><text x="499.3" y="481.3" text-anchor="middle">0.4</text><text x="567.85" y="481.3" text-anchor="middle">0.6</text><text x="636.4" y="481.3" text-anchor="middle">0.8</text></g>
<g>
<clipPath id="clipb"><rect x="838.4" y="11.2" width="531.4" height="343.1"/></clipPath>
<g clip-path="url(#clipb)">
<path d="M838.4 11.2 L1182.5 11.2 L1179.6 14.5 L1172.9 22.4 L1166.1 30.2 L1157.2 38.1 L1149.3 42.6 L1143.7 41.4 L1138.1 39.2 L1132.5 43.7 L1123.5 51.5 L1119 57.2 L1116.4 66.1 L1109.7 72.9 L1101.8 76.2 L1097.3 78.5 L1099.6 81.9 L1105.2 90.8 L1110.8 99.8 L1114.2 107.7 L1115.6 113.5 L1115.3 118 L1113.4 123.6 L1111.5 128 L1107 131 L1100 132.5 L1094 133.5 L1090 132 L1091.7 126 L1092.8 117.8 L1090.6 108.8 L1091.7 103.2 L1088.4 99.8 L1081.6 98.7 L1078.8 95.3 L1080.5 88.6 L1082.2 83 L1080.5 78.5 L1074.9 76.2 L1068.1 75.7 L1061.4 77.4 L1052.7 81.9 L1049 83 L1046.4 88.9 L1043.5 85 L1046 76 L1052 70 L1054.9 67.2 L1050 65 L1045.6 66.1 L1040 70 L1034.4 76.2 L1025 85 L1016.8 87.2 L1017.7 93.9 L1022 97 L1027 100.4 L1029.6 106.4 L1034 103 L1038.9 101 L1048.2 102.2 L1054.2 102.2 L1059.2 103.4 L1056.7 108 L1052.3 107.9 L1044.8 112.4 L1037.3 119.9 L1029.8 127.4 L1032.8 133.3 L1038.8 136.3 L1041.8 146.8 L1046.3 154.3 L1052.3 160.3 L1053.7 167.7 L1047.8 172.2 L1041.8 176.7 L1050.8 178.2 L1053.7 181.2 L1052.3 188.7 L1049.3 194.6 L1044.8 200.6 L1038.8 208.1 L1034.3 214.1 L1032.8 220 L1029.8 224.5 L1022.4 232 L1011.9 239.5 L1001.4 245.5 L991 248.4 L982.5 250.1 L975.7 253.5 L966.7 258 L960 260.2 L955 263.6 L952.7 269.2 L951 264.7 L948.8 259.1 L944.3 255.7 L937.5 255.7 L929.7 259.1 L923 264.7 L917.3 272.6 L914 280.4 L915.1 282.7 L918.5 288.3 L924.1 295 L930.8 302.9 L937.5 311.9 L943.2 318.6 L944.3 327.6 L942.6 341.1 L938.7 348.9 L933.1 353.4 L932.5 354.3 L895.8 354.3 L895.6 352.7 L891 345.6 L887.1 341 L881.8 337.1 L875.3 335.8 L874 331.8 L871.4 329.9 L868.1 331.2 L866.8 335.8 L864.8 343.6 L862.5 352.7 L862.3 354.3 L856.4 354.3 L856.3 352.7 L855.7 345.6 L853.1 329.2 L849.8 314.8 L847.2 305 L843.9 301.1 L840 300.5 L838.4 301Z" fill="#b3b3b3"/>
<path d="M1208 56 L1213 57 L1215 70 L1215 87 L1214 94 L1214.4 102 L1212.7 111 L1212.2 114.6 L1208.8 124.7 L1205.4 128.1 L1199.8 125.8 L1195.3 131.4 L1188.6 130.3 L1181.9 132.6 L1177.4 135.9 L1172.9 142.7 L1168.4 143.8 L1166.1 139.3 L1166.7 133.7 L1161.7 133.7 L1154.9 133.7 L1147.1 135.9 L1141.4 137.1 L1139.2 133.7 L1142.6 124.7 L1154.9 122.5 L1166.1 120.8 L1172.9 119.1 L1175.1 113.3 L1179.6 108.8 L1186.4 105.4 L1193.1 102.1 L1198.7 97.6 L1202.1 90.8 L1205.4 87.5 L1206 75 L1207 62Z" fill="#b3b3b3"/>
<path d="M1220 13.4 L1223.4 14.5 L1227.9 21.2 L1233.5 26.8 L1239.1 31.3 L1247 29.1 L1250.4 28 L1249.2 32.5 L1253.7 36.9 L1244.7 39.2 L1239.1 43.7 L1233.5 47.1 L1231.3 50.4 L1226.8 49.3 L1221.2 47.1 L1216.7 49.3 L1213.3 48.7 L1209.9 47.1 L1206.6 48.2 L1206 43.7 L1208.8 39.8 L1215.5 38.1 L1216.7 32.5 L1217.8 23.5 L1219.5 15.6Z" fill="#b3b3b3"/>
<path d="M1142.6 142.7 L1149.3 138.2 L1157.2 137.1 L1159.4 140.4 L1154.9 144.9 L1147.1 147.2 L1142.6 149.4 L1141.4 146Z" fill="#b3b3b3"/>
<path d="M1119 144.9 L1124.6 141.5 L1132.5 142.7 L1136.9 150.5 L1133.6 158.4 L1131.3 165.1 L1125.7 167.4 L1122.4 162.9 L1123.5 153.9 L1119 149.4Z" fill="#b3b3b3"/>
<path d="M1051.2 224.7 L1052.4 228.1 L1050.1 237.1 L1045.6 248.3 L1043.4 252.8 L1040 247.2 L1038.9 240.4 L1042.3 232.6 L1047.9 225.8Z" fill="#b3b3b3"/>
<path d="M942.3 278.6 L945.7 275.2 L951.3 273 L959.2 272.4 L959.2 277.5 L955.8 283.1 L949.1 287 L942.9 286.5 L940.6 282Z" fill="#b3b3b3"/>
<path d="M1042.3 285.9 L1045.6 285.4 L1055.1 287.1 L1056.8 298.3 L1053.5 306.1 L1049 311.7 L1047.9 317.3 L1051.2 322.9 L1054.6 325.7 L1061.3 325.2 L1066.9 328.5 L1070.3 334.1 L1066.9 334.1 L1060.2 328.5 L1054.6 328.5 L1051.2 326.3 L1045.6 327.4 L1042.3 325.2 L1042.3 318.4 L1037.8 316.2 L1037.2 307.2 L1040 300.5 L1041.1 292.7Z" fill="#b3b3b3"/>
<path d="M1043.4 330.8 L1047.9 333 L1049 338.6 L1045.6 339.7 L1042.3 334.1Z" fill="#b3b3b3"/>
<path d="M1054.6 344.8 L1059.1 346.4 L1062.4 350.9 L1061.3 354.3 L1054.6 354.3Z" fill="#b3b3b3"/>
<path d="M1074.7 339.2 L1081.5 338.6 L1084.3 348.7 L1079.2 352 L1074.7 350.9 L1076.4 344.2Z" fill="#b3b3b3"/>
<path d="M1264.8 23.2 L1268 19 L1277.1 14.2 L1272 19 L1266 24Z" fill="#b3b3b3"/>
<path d="M1102 215 L1104.5 211 L1107 209.5 L1105 212.5 L1102.8 215.8Z" fill="#b3b3b3"/>
<path d="M866.7 11.2V354.3 M951.48 11.2V354.3 M1036.26 11.2V354.3 M1121.04 11.2V354.3 M1205.82 11.2V354.3 M1290.6 11.2V354.3 M838.4 272.22H1369.8 M838.4 178.63H1369.8 M838.4 75.01H1369.8" stroke="#262626" stroke-width="1.2" fill="none" opacity="0.12"/>
</g>
<rect x="832.8" y="5.5" width="542.6" height="354.5" fill="none" stroke="#333" stroke-width="1"/>
<rect x="838.4" y="11.2" width="531.4" height="343.1" fill="none" stroke="#333" stroke-width="1"/>
<path d="M838.4 356.9H849.74 M866.7 356.9H909.09 M951.48 356.9H993.87 M1036.26 356.9H1078.65 M1121.04 356.9H1163.43 M1205.82 356.9H1248.21 M1290.6 356.9H1332.99 M849.74 8.8H866.7 M909.09 8.8H951.48 M993.87 8.8H1036.26 M1078.65 8.8H1121.04 M1163.43 8.8H1205.82 M1248.21 8.8H1290.6 M1332.99 8.8H1369.8 M836.3 354.3V316.62 M836.3 272.22V226.38 M836.3 178.63V128.41 M836.3 75.01V41.09 M1372.3 316.62V272.22 M1372.3 226.38V178.63 M1372.3 128.41V75.01 M1372.3 41.09V11.2" stroke="#111" stroke-width="2.2" fill="none"/>
<path d="M832.8 5.5L838.4 11.2 M1375.4 5.5L1369.8 11.2 M832.8 360L838.4 354.3 M1375.4 360L1369.8 354.3" stroke="#3a3a3a" stroke-width="0.9"/>
<path d="M866.7 360V365 M866.7 5.5V0 M951.48 360V365 M951.48 5.5V0 M1036.26 360V365 M1036.26 5.5V0 M1121.04 360V365 M1121.04 5.5V0 M1205.82 360V365 M1205.82 5.5V0 M1290.6 360V365 M1290.6 5.5V0 M1375.38 360V365 M1375.38 5.5V0 M832.8 360H827.8 M1375.4 360H1380.4 M832.8 272.22H827.8 M1375.4 272.22H1380.4 M832.8 178.63H827.8 M1375.4 178.63H1380.4 M832.8 75.01H827.8 M1375.4 75.01H1380.4" stroke="#111" stroke-width="1.4" fill="none"/>
</g>
<g><path d="M985.39 52.57H993.87V63.88H985.39ZM1002.35 52.57H1010.83V63.88H1002.35ZM1078.65 52.57H1087.13V63.88H1078.65ZM985.39 63.88H993.87V75.01H985.39ZM993.87 63.88H1002.35V75.01H993.87ZM1002.35 63.88H1010.83V75.01H1002.35ZM1044.74 63.88H1053.22V75.01H1044.74ZM1061.69 63.88H1070.17V75.01H1061.69ZM1070.17 63.88H1078.65V75.01H1070.17ZM1078.65 63.88H1087.13V75.01H1078.65ZM985.39 75.01H993.87V85.98H985.39ZM993.87 75.01H1002.35V85.98H993.87ZM1002.35 75.01H1010.83V85.98H1002.35ZM1044.74 75.01H1053.22V85.98H1044.74ZM1053.22 75.01H1061.69V85.98H1053.22ZM1061.69 75.01H1070.17V85.98H1061.69ZM1002.35 85.98H1010.83V96.8H1002.35ZM1010.83 85.98H1019.3V96.8H1010.83ZM1027.78 85.98H1036.26V96.8H1027.78ZM1036.26 85.98H1044.74V96.8H1036.26ZM1044.74 85.98H1053.22V96.8H1044.74ZM1061.69 85.98H1070.17V96.8H1061.69ZM1070.17 85.98H1078.65V96.8H1070.17ZM1019.3 96.8H1027.78V107.48H1019.3ZM1027.78 96.8H1036.26V107.48H1027.78ZM1036.26 96.8H1044.74V107.48H1036.26ZM1044.74 96.8H1053.22V107.48H1044.74ZM1053.22 96.8H1061.69V107.48H1053.22ZM1061.69 96.8H1070.17V107.48H1061.69ZM1070.17 96.8H1078.65V107.48H1070.17ZM1002.35 107.48H1010.83V118.01H1002.35ZM1010.83 107.48H1019.3V118.01H1010.83ZM1027.78 107.48H1036.26V118.01H1027.78ZM1036.26 107.48H1044.74V118.01H1036.26ZM1044.74 107.48H1053.22V118.01H1044.74ZM1053.22 107.48H1061.69V118.01H1053.22ZM1061.69 107.48H1070.17V118.01H1061.69ZM1002.35 118.01H1010.83V128.41H1002.35ZM1010.83 118.01H1019.3V128.41H1010.83ZM1027.78 118.01H1036.26V128.41H1027.78ZM1036.26 118.01H1044.74V128.41H1036.26ZM1044.74 118.01H1053.22V128.41H1044.74ZM1061.69 118.01H1070.17V128.41H1061.69ZM1070.17 118.01H1078.65V128.41H1070.17ZM1078.65 118.01H1087.13V128.41H1078.65ZM1002.35 128.41H1010.83V138.68H1002.35ZM1027.78 128.41H1036.26V138.68H1027.78ZM1036.26 128.41H1044.74V138.68H1036.26ZM1044.74 128.41H1053.22V138.68H1044.74ZM1070.17 128.41H1078.65V138.68H1070.17ZM1078.65 128.41H1087.13V138.68H1078.65ZM959.96 138.68H968.44V148.84H959.96ZM976.91 138.68H985.39V148.84H976.91ZM985.39 138.68H993.87V148.84H985.39ZM993.87 138.68H1002.35V148.84H993.87ZM1036.26 138.68H1044.74V148.84H1036.26ZM1044.74 138.68H1053.22V148.84H1044.74ZM1070.17 138.68H1078.65V148.84H1070.17ZM1078.65 138.68H1087.13V148.84H1078.65ZM951.48 148.84H959.96V158.87H951.48ZM959.96 148.84H968.44V158.87H959.96ZM968.44 148.84H976.91V158.87H968.44ZM976.91 148.84H985.39V158.87H976.91ZM1002.35 148.84H1010.83V158.87H1002.35ZM1019.3 148.84H1027.78V158.87H1019.3ZM1036.26 148.84H1044.74V158.87H1036.26ZM1044.74 148.84H1053.22V158.87H1044.74ZM1070.17 148.84H1078.65V158.87H1070.17ZM1078.65 148.84H1087.13V158.87H1078.65ZM985.39 158.87H993.87V168.8H985.39ZM993.87 158.87H1002.35V168.8H993.87ZM1002.35 158.87H1010.83V168.8H1002.35ZM1078.65 158.87H1087.13V168.8H1078.65ZM1002.35 168.8H1010.83V178.63H1002.35ZM1002.35 178.63H1010.83V188.36H1002.35ZM1078.65 178.63H1087.13V188.36H1078.65ZM1087.13 178.63H1095.61V188.36H1087.13ZM1010.83 188.36H1019.3V197.99H1010.83ZM1078.65 188.36H1087.13V197.99H1078.65ZM1027.78 197.99H1036.26V207.54H1027.78ZM1044.74 207.54H1053.22V217H1044.74ZM1087.13 207.54H1095.61V217H1087.13ZM1061.69 217H1070.17V226.38H1061.69ZM1154.95 52.57H1163.43V63.88H1154.95ZM1214.3 52.57H1222.78V63.88H1214.3ZM1265.17 52.57H1273.64V63.88H1265.17ZM1273.64 52.57H1282.12V63.88H1273.64ZM1154.95 63.88H1163.43V75.01H1154.95ZM1163.43 63.88H1171.91V75.01H1163.43ZM1171.91 63.88H1180.39V75.01H1171.91ZM1180.39 63.88H1188.86V75.01H1180.39ZM1188.86 63.88H1197.34V75.01H1188.86ZM1205.82 63.88H1214.3V75.01H1205.82ZM1222.78 63.88H1231.25V75.01H1222.78ZM1231.25 63.88H1239.73V75.01H1231.25ZM1154.95 75.01H1163.43V85.98H1154.95ZM1171.91 75.01H1180.39V85.98H1171.91ZM1180.39 75.01H1188.86V85.98H1180.39ZM1214.3 75.01H1222.78V85.98H1214.3ZM1222.78 75.01H1231.25V85.98H1222.78ZM1231.25 75.01H1239.73V85.98H1231.25ZM1163.43 85.98H1171.91V96.8H1163.43ZM1171.91 85.98H1180.39V96.8H1171.91ZM1163.43 96.8H1171.91V107.48H1163.43ZM1171.91 96.8H1180.39V107.48H1171.91ZM1154.95 107.48H1163.43V118.01H1154.95ZM892.13 188.36H900.61V197.99H892.13ZM875.18 316.62H883.66V325.37H875.18ZM1163.43 244.92H1171.91V254.08H1163.43ZM1239.73 235.68H1248.21V244.92H1239.73ZM1095.61 168.8H1104.08V178.63H1095.61ZM1087.13 217H1095.61V226.38H1087.13Z" fill="#00ffff" shape-rendering="crispEdges"/><path d="M1010.83 52.57H1019.3V63.88H1010.83ZM1019.3 52.57H1027.78V63.88H1019.3ZM1027.78 52.57H1036.26V63.88H1027.78ZM1044.74 52.57H1053.22V63.88H1044.74ZM1010.83 63.88H1019.3V75.01H1010.83ZM1019.3 63.88H1027.78V75.01H1019.3ZM1027.78 63.88H1036.26V75.01H1027.78ZM1036.26 63.88H1044.74V75.01H1036.26ZM1019.3 75.01H1027.78V85.98H1019.3ZM1027.78 75.01H1036.26V85.98H1027.78ZM1053.22 85.98H1061.69V96.8H1053.22ZM1053.22 118.01H1061.69V128.41H1053.22ZM1053.22 128.41H1061.69V138.68H1053.22ZM1061.69 128.41H1070.17V138.68H1061.69ZM1002.35 138.68H1010.83V148.84H1002.35ZM1010.83 138.68H1019.3V148.84H1010.83ZM1019.3 138.68H1027.78V148.84H1019.3ZM1027.78 138.68H1036.26V148.84H1027.78ZM1053.22 138.68H1061.69V148.84H1053.22ZM1061.69 138.68H1070.17V148.84H1061.69ZM985.39 148.84H993.87V158.87H985.39ZM993.87 148.84H1002.35V158.87H993.87ZM1010.83 148.84H1019.3V158.87H1010.83ZM1061.69 148.84H1070.17V158.87H1061.69ZM1010.83 158.87H1019.3V168.8H1010.83ZM1027.78 158.87H1036.26V168.8H1027.78ZM1036.26 158.87H1044.74V168.8H1036.26ZM1044.74 158.87H1053.22V168.8H1044.74ZM1053.22 158.87H1061.69V168.8H1053.22ZM1061.69 158.87H1070.17V168.8H1061.69ZM1070.17 158.87H1078.65V168.8H1070.17ZM1010.83 168.8H1019.3V178.63H1010.83ZM1019.3 168.8H1027.78V178.63H1019.3ZM1036.26 168.8H1044.74V178.63H1036.26ZM1044.74 168.8H1053.22V178.63H1044.74ZM1053.22 168.8H1061.69V178.63H1053.22ZM1078.65 168.8H1087.13V178.63H1078.65ZM1010.83 178.63H1019.3V188.36H1010.83ZM1019.3 178.63H1027.78V188.36H1019.3ZM1027.78 178.63H1036.26V188.36H1027.78ZM1036.26 178.63H1044.74V188.36H1036.26ZM1044.74 178.63H1053.22V188.36H1044.74ZM1070.17 178.63H1078.65V188.36H1070.17ZM1044.74 188.36H1053.22V197.99H1044.74ZM1053.22 188.36H1061.69V197.99H1053.22ZM1044.74 197.99H1053.22V207.54H1044.74ZM1053.22 197.99H1061.69V207.54H1053.22ZM1078.65 197.99H1087.13V207.54H1078.65ZM1053.22 207.54H1061.69V217H1053.22ZM1078.65 207.54H1087.13V217H1078.65ZM1070.17 217H1078.65V226.38H1070.17ZM1078.65 217H1087.13V226.38H1078.65ZM1061.69 226.38H1070.17V235.68H1061.69ZM1070.17 226.38H1078.65V235.68H1070.17ZM1078.65 226.38H1087.13V235.68H1078.65ZM1214.3 63.88H1222.78V75.01H1214.3ZM1205.82 75.01H1214.3V85.98H1205.82ZM1180.39 85.98H1188.86V96.8H1180.39Z" fill="#00ccff" shape-rendering="crispEdges"/><path d="M1036.26 52.57H1044.74V63.88H1036.26ZM1010.83 75.01H1019.3V85.98H1010.83ZM1036.26 75.01H1044.74V85.98H1036.26ZM1027.78 148.84H1036.26V158.87H1027.78ZM1053.22 148.84H1061.69V158.87H1053.22ZM1019.3 158.87H1027.78V168.8H1019.3ZM1027.78 168.8H1036.26V178.63H1027.78ZM1061.69 168.8H1070.17V178.63H1061.69ZM1070.17 168.8H1078.65V178.63H1070.17ZM1053.22 178.63H1061.69V188.36H1053.22ZM1061.69 178.63H1070.17V188.36H1061.69ZM1019.3 188.36H1027.78V197.99H1019.3ZM1027.78 188.36H1036.26V197.99H1027.78ZM1036.26 188.36H1044.74V197.99H1036.26ZM1061.69 188.36H1070.17V197.99H1061.69ZM1070.17 188.36H1078.65V197.99H1070.17ZM1070.17 197.99H1078.65V207.54H1070.17ZM1061.69 207.54H1070.17V217H1061.69ZM1070.17 207.54H1078.65V217H1070.17Z" fill="#0a9aff" shape-rendering="crispEdges"/><path d="M1053.22 63.88H1061.69V75.01H1053.22ZM1010.83 128.41H1019.3V138.68H1010.83ZM1019.3 128.41H1027.78V138.68H1019.3ZM951.48 158.87H959.96V168.8H951.48ZM959.96 158.87H968.44V168.8H959.96ZM1087.13 158.87H1095.61V168.8H1087.13ZM959.96 168.8H968.44V178.63H959.96ZM1087.13 168.8H1095.61V178.63H1087.13ZM1087.13 197.99H1095.61V207.54H1087.13ZM1171.91 52.57H1180.39V63.88H1171.91ZM1180.39 52.57H1188.86V63.88H1180.39ZM1188.86 75.01H1197.34V85.98H1188.86ZM1197.34 75.01H1205.82V85.98H1197.34ZM1214.3 85.98H1222.78V96.8H1214.3ZM1154.95 96.8H1163.43V107.48H1154.95Z" fill="#40ffff" shape-rendering="crispEdges"/><path d="M1061.69 197.99H1070.17V207.54H1061.69Z" fill="#1464ff" shape-rendering="crispEdges"/><path d="M909.09 178.63H917.57V188.36H909.09ZM917.57 178.63H926.05V188.36H917.57ZM909.09 207.54H917.57V217H909.09ZM917.57 207.54H926.05V217H917.57ZM926.05 207.54H934.52V217H926.05ZM934.52 207.54H943V217H934.52ZM951.48 235.68H959.96V244.92H951.48ZM1002.35 272.22H1010.83V281.2H1002.35ZM1010.83 272.22H1019.3V281.2H1010.83ZM1002.35 281.2H1010.83V290.13H1002.35ZM1019.3 281.2H1027.78V290.13H1019.3ZM1027.78 281.2H1036.26V290.13H1027.78ZM1010.83 290.13H1019.3V299.01H1010.83ZM1019.3 290.13H1027.78V299.01H1019.3ZM1036.26 290.13H1044.74V299.01H1036.26ZM1010.83 299.01H1019.3V307.84H1010.83ZM1019.3 299.01H1027.78V307.84H1019.3ZM1027.78 299.01H1036.26V307.84H1027.78ZM1044.74 299.01H1053.22V307.84H1044.74ZM1053.22 299.01H1061.69V307.84H1053.22ZM1061.69 299.01H1070.17V307.84H1061.69ZM1027.78 307.84H1036.26V316.62H1027.78ZM1061.69 307.84H1070.17V316.62H1061.69ZM1036.26 316.62H1044.74V325.37H1036.26ZM1061.69 316.62H1070.17V325.37H1061.69ZM1010.83 325.37H1019.3V334.08H1010.83ZM1036.26 325.37H1044.74V334.08H1036.26ZM1044.74 325.37H1053.22V334.08H1044.74ZM1061.69 325.37H1070.17V334.08H1061.69ZM1010.83 334.08H1019.3V342.75H1010.83ZM1019.3 334.08H1027.78V342.75H1019.3ZM1036.26 334.08H1044.74V342.75H1036.26ZM1053.22 334.08H1061.69V342.75H1053.22ZM1061.69 334.08H1070.17V342.75H1061.69ZM1053.22 351.39H1061.69V360H1053.22ZM1087.13 299.01H1095.61V307.84H1087.13Z" fill="#ffff00" shape-rendering="crispEdges"/><path d="M1010.83 281.2H1019.3V290.13H1010.83ZM1027.78 290.13H1036.26V299.01H1027.78ZM1036.26 299.01H1044.74V307.84H1036.26Z" fill="#ffcc00" shape-rendering="crispEdges"/></g>
<path d="M914.5 280 L916.5 274 L920 268.5 L923 264.7 L929.7 259.3 L937.5 256 L944.3 255.8 L948.5 259 L950.5 264 L952.5 268.5 L954.5 263.5 L959 260.5 L967 257 L974 252.4 L981 249.2 L987 248.2 L992.3 247.6 L1000.7 245.3 L1007 242.4 L1014 238 L1022.4 232.2 L1029.8 224.5" fill="none" stroke="#f00000" stroke-width="4.6" stroke-linejoin="round" stroke-linecap="round"/>
<path d="M1029.8 224.5 L1032.8 220 L1034.3 214.1 L1038.8 208.1 L1044.8 200.6 L1049.3 194.6 L1052.3 188.7 L1053.7 181.2 L1050.8 178.2 L1042.5 176.7 L1047.8 172.2 L1053.2 167.7 L1052.3 160.3 L1046.3 154.3 L1041.8 146.8 L1038.8 136.3 L1032.8 133.3 L1029.8 127.4 L1037.3 119.9 L1044.8 112.4 L1052.3 107.9" fill="none" stroke="#0000dd" stroke-width="4.6" stroke-linejoin="round" stroke-linecap="round"/>
<circle cx="987.2" cy="250.9" r="5.4" fill="#000"/>
<g font-family='"Liberation Sans", sans-serif' fill="#0a0a0a">
<text x="821.3" y="369.5" font-size="24.8" text-anchor="end">10°N</text>
<text x="821.3" y="281.72" font-size="24.8" text-anchor="end">20°N</text>
<text x="821.3" y="188.13" font-size="24.8" text-anchor="end">30°N</text>
<text x="821.3" y="84.51" font-size="24.8" text-anchor="end">40°N</text>
<text x="867.2" y="390" font-size="24.6" text-anchor="middle">100°E</text>
<text x="951.98" y="390" font-size="24.6" text-anchor="middle">110°E</text>
<text x="1036.76" y="390" font-size="24.6" text-anchor="middle">120°E</text>
<text x="1121.54" y="390" font-size="24.6" text-anchor="middle">130°E</text>
<text x="1206.32" y="390" font-size="24.6" text-anchor="middle">140°E</text>
<text x="1291.1" y="390" font-size="24.6" text-anchor="middle">150°E</text>
<text x="1375.88" y="390" font-size="24.6" text-anchor="middle">160°E</text>
<text x="862" y="77.2" font-size="52">(b)</text>
</g>
<g shape-rendering="crispEdges"><rect x="830" y="417.4" width="27.72" height="34.6" fill="#0000ff"/><rect x="857.42" y="417.4" width="27.72" height="34.6" fill="#0a2aff"/><rect x="884.84" y="417.4" width="27.72" height="34.6" fill="#1464ff"/><rect x="912.26" y="417.4" width="27.72" height="34.6" fill="#0a9aff"/><rect x="939.68" y="417.4" width="27.72" height="34.6" fill="#00c8ff"/><rect x="967.1" y="417.4" width="27.72" height="34.6" fill="#00ffff"/><rect x="994.52" y="417.4" width="27.72" height="34.6" fill="#40ffff"/><rect x="1021.94" y="417.4" width="27.72" height="34.6" fill="#80ffff"/><rect x="1049.36" y="417.4" width="27.72" height="34.6" fill="#c0ffff"/><rect x="1076.78" y="417.4" width="27.72" height="34.6" fill="#ffffff"/><rect x="1104.2" y="417.4" width="27.72" height="34.6" fill="#ffffe0"/><rect x="1131.62" y="417.4" width="27.72" height="34.6" fill="#ffffb0"/><rect x="1159.04" y="417.4" width="27.72" height="34.6" fill="#ffff80"/><rect x="1186.46" y="417.4" width="27.72" height="34.6" fill="#ffff40"/><rect x="1213.88" y="417.4" width="27.72" height="34.6" fill="#ffff00"/><rect x="1241.3" y="417.4" width="27.72" height="34.6" fill="#ffcc00"/><rect x="1268.72" y="417.4" width="27.72" height="34.6" fill="#ff9900"/><rect x="1296.14" y="417.4" width="27.72" height="34.6" fill="#ff6600"/><rect x="1323.56" y="417.4" width="27.72" height="34.6" fill="#ff3300"/><rect x="1350.98" y="417.4" width="27.72" height="34.6" fill="#ff0000"/></g>
<rect x="830" y="417.4" width="548.4" height="34.6" fill="none" stroke="#222" stroke-width="1"/>
<path d="M830 452V448 M898.55 452V448 M967.1 452V448 M1035.65 452V448 M1104.2 452V448 M1172.75 452V448 M1241.3 452V448 M1309.85 452V448 M1378.4 452V448" stroke="#222" stroke-width="1"/>
<g font-family='"Liberation Sans", sans-serif' font-size="20.3" fill="#0a0a0a"><text x="830" y="481.3" text-anchor="middle">-0.8</text><text x="898.55" y="481.3" text-anchor="middle">-0.6</text><text x="967.1" y="481.3" text-anchor="middle">-0.4</text><text x="1035.65" y="481.3" text-anchor="middle">-0.2</text><text x="1104.2" y="481.3" text-anchor="middle">0</text><text x="1172.75" y="481.3" text-anchor="middle">0.2</text><text x="1241.3" y="481.3" text-anchor="middle">0.4</text><text x="1309.85" y="481.3" text-anchor="middle">0.6</text><text x="1378.4" y="481.3" text-anchor="middle">0.8</text></g>
<g font-family='"Liberation Sans", sans-serif' fill="#0a0a0a">
<path d="M60.35 1004.8V998.8 M60.35 505.1V511.1 M181.12 1004.8V998.8 M181.12 505.1V511.1 M301.89 1004.8V998.8 M301.89 505.1V511.1 M422.66 1004.8V998.8 M422.66 505.1V511.1 M543.43 1004.8V998.8 M543.43 505.1V511.1 M664.2 1004.8V998.8 M664.2 505.1V511.1 M60.35 1004.8H66.35 M664.2 1004.8H658.2 M60.35 921.52H66.35 M664.2 921.52H658.2 M60.35 838.23H66.35 M664.2 838.23H658.2 M60.35 754.95H66.35 M664.2 754.95H658.2 M60.35 671.67H66.35 M664.2 671.67H658.2 M60.35 588.38H66.35 M664.2 588.38H658.2 M60.35 505.1H66.35 M664.2 505.1H658.2" stroke="#262626" stroke-width="1.1"/>
<path d="M169.04 792.01 L181.12 672.5 L193.2 760.78 L205.27 796.59 L217.35 679.58 L229.43 760.36 L241.5 806.59 L253.58 776.19 L265.66 786.18 L277.74 789.51 L289.81 758.28 L301.89 655.84 L313.97 723.72 L326.04 702.48 L338.12 694.99 L350.2 727.88 L362.28 678.33 L374.35 712.06 L386.43 765.36 L398.51 945.25 L410.58 692.07 L422.66 925.26 L434.74 742.04 L446.81 792.01 L458.89 771.61 L470.97 841.98 L483.05 782.43 L495.12 808.25 L507.2 807 L519.28 702.9 L531.35 675 L543.43 737.46 L555.51 798.67 L567.58 766.61 L579.66 659.59 L591.74 812.83 L603.82 757.03 L615.89 625.86 L627.97 697.9 L640.05 761.61 L652.12 808.67 L664.2 753.7" fill="none" stroke="#ff0000" stroke-width="1.25" stroke-linejoin="round"/>
<path d="M169.04 784.91V799.11M161.94 792.01H176.14M163.36 786.33L174.72 797.69M163.36 797.69L174.72 786.33M181.12 665.4V679.6M174.02 672.5H188.22M175.44 666.82L186.8 678.18M175.44 678.18L186.8 666.82M193.2 753.68V767.88M186.1 760.78H200.3M187.52 755.1L198.88 766.46M187.52 766.46L198.88 755.1M205.27 789.49V803.69M198.17 796.59H212.37M199.59 790.91L210.95 802.27M199.59 802.27L210.95 790.91M217.35 672.48V686.68M210.25 679.58H224.45M211.67 673.9L223.03 685.26M211.67 685.26L223.03 673.9M229.43 753.26V767.46M222.33 760.36H236.53M223.75 754.68L235.11 766.04M223.75 766.04L235.11 754.68M241.5 799.49V813.69M234.41 806.59H248.6M235.82 800.91L247.19 812.27M235.82 812.27L247.19 800.91M253.58 769.09V783.29M246.48 776.19H260.68M247.9 770.51L259.26 781.87M247.9 781.87L259.26 770.51M265.66 779.08V793.28M258.56 786.18H272.76M259.98 780.5L271.34 791.86M259.98 791.86L271.34 780.5M277.74 782.41V796.61M270.64 789.51H284.84M272.06 783.83L283.42 795.19M272.06 795.19L283.42 783.83M289.81 751.18V765.38M282.71 758.28H296.91M284.13 752.6L295.49 763.96M284.13 763.96L295.49 752.6M301.89 648.74V662.94M294.79 655.84H308.99M296.21 650.16L307.57 661.52M296.21 661.52L307.57 650.16M313.97 716.62V730.82M306.87 723.72H321.07M308.29 718.04L319.65 729.4M308.29 729.4L319.65 718.04M326.04 695.38V709.58M318.94 702.48H333.14M320.36 696.8L331.72 708.16M320.36 708.16L331.72 696.8M338.12 687.89V702.09M331.02 694.99H345.22M332.44 689.31L343.8 700.67M332.44 700.67L343.8 689.31M350.2 720.78V734.98M343.1 727.88H357.3M344.52 722.2L355.88 733.56M344.52 733.56L355.88 722.2M362.28 671.23V685.43M355.18 678.33H369.38M356.6 672.65L367.96 684.01M356.6 684.01L367.96 672.65M374.35 704.96V719.16M367.25 712.06H381.45M368.67 706.38L380.03 717.74M368.67 717.74L380.03 706.38M386.43 758.26V772.46M379.33 765.36H393.53M380.75 759.68L392.11 771.04M380.75 771.04L392.11 759.68M398.51 938.15V952.35M391.41 945.25H405.61M392.83 939.57L404.19 950.93M392.83 950.93L404.19 939.57M410.58 684.97V699.17M403.48 692.07H417.68M404.9 686.39L416.26 697.75M404.9 697.75L416.26 686.39M422.66 918.16V932.36M415.56 925.26H429.76M416.98 919.58L428.34 930.94M416.98 930.94L428.34 919.58M434.74 734.94V749.14M427.64 742.04H441.84M429.06 736.36L440.42 747.72M429.06 747.72L440.42 736.36M446.81 784.91V799.11M439.71 792.01H453.91M441.13 786.33L452.49 797.69M441.13 797.69L452.49 786.33M458.89 764.51V778.71M451.79 771.61H465.99M453.21 765.93L464.57 777.29M453.21 777.29L464.57 765.93M470.97 834.88V849.08M463.87 841.98H478.07M465.29 836.3L476.65 847.66M465.29 847.66L476.65 836.3M483.05 775.33V789.53M475.94 782.43H490.15M477.37 776.75L488.73 788.11M477.37 788.11L488.73 776.75M495.12 801.15V815.35M488.02 808.25H502.22M489.44 802.57L500.8 813.93M489.44 813.93L500.8 802.57M507.2 799.9V814.1M500.1 807H514.3M501.52 801.32L512.88 812.68M501.52 812.68L512.88 801.32M519.28 695.8V710M512.18 702.9H526.38M513.6 697.22L524.96 708.58M513.6 708.58L524.96 697.22M531.35 667.9V682.1M524.25 675H538.45M525.67 669.32L537.03 680.68M525.67 680.68L537.03 669.32M543.43 730.36V744.56M536.33 737.46H550.53M537.75 731.78L549.11 743.14M537.75 743.14L549.11 731.78M555.51 791.57V805.77M548.41 798.67H562.61M549.83 792.99L561.19 804.35M549.83 804.35L561.19 792.99M567.58 759.51V773.71M560.48 766.61H574.68M561.9 760.93L573.26 772.29M561.9 772.29L573.26 760.93M579.66 652.49V666.69M572.56 659.59H586.76M573.98 653.91L585.34 665.27M573.98 665.27L585.34 653.91M591.74 805.73V819.93M584.64 812.83H598.84M586.06 807.15L597.42 818.51M586.06 818.51L597.42 807.15M603.82 749.93V764.13M596.72 757.03H610.92M598.14 751.35L609.5 762.71M598.14 762.71L609.5 751.35M615.89 618.76V632.96M608.79 625.86H622.99M610.21 620.18L621.57 631.54M610.21 631.54L621.57 620.18M627.97 690.8V705M620.87 697.9H635.07M622.29 692.22L633.65 703.58M622.29 703.58L633.65 692.22M640.05 754.51V768.71M632.95 761.61H647.15M634.37 755.93L645.73 767.29M634.37 767.29L645.73 755.93M652.12 801.57V815.77M645.02 808.67H659.22M646.44 802.99L657.8 814.35M646.44 814.35L657.8 802.99M664.2 746.6V760.8M657.1 753.7H671.3M658.52 748.02L669.88 759.38M658.52 759.38L669.88 748.02" fill="none" stroke="#ff0000" stroke-width="1.4"/>
<path d="M169.04 811.17 L181.12 768.69 L193.2 726.22 L205.27 781.18 L217.35 809.5 L229.43 685.82 L241.5 685.41 L253.58 819.08 L265.66 786.6 L277.74 763.28 L289.81 647.1 L301.89 737.04 L313.97 824.91 L326.04 736.21 L338.12 821.58 L350.2 616.28 L362.28 774.94 L374.35 777.85 L386.43 756.2 L398.51 729.96 L410.58 772.86 L422.66 736.63 L434.74 742.04 L446.81 792.43 L458.89 829.49 L470.97 707.89 L483.05 660.42 L495.12 749.12 L507.2 737.88 L519.28 744.96 L531.35 794.09 L543.43 819.91 L555.51 826.16 L567.58 710.81 L579.66 705.81 L591.74 750.37 L603.82 767.44 L615.89 830.32 L627.97 792.43 L640.05 589.63 L652.12 798.67 L664.2 790.35" fill="none" stroke="#0000ff" stroke-width="1.25" stroke-linejoin="round"/>
<path d="M169.04 804.07V818.27M161.94 811.17H176.14M163.36 805.49L174.72 816.85M163.36 816.85L174.72 805.49M181.12 761.59V775.79M174.02 768.69H188.22M175.44 763.01L186.8 774.37M175.44 774.37L186.8 763.01M193.2 719.12V733.32M186.1 726.22H200.3M187.52 720.54L198.88 731.9M187.52 731.9L198.88 720.54M205.27 774.08V788.28M198.17 781.18H212.37M199.59 775.5L210.95 786.86M199.59 786.86L210.95 775.5M217.35 802.4V816.6M210.25 809.5H224.45M211.67 803.82L223.03 815.18M211.67 815.18L223.03 803.82M229.43 678.72V692.92M222.33 685.82H236.53M223.75 680.14L235.11 691.5M223.75 691.5L235.11 680.14M241.5 678.31V692.51M234.41 685.41H248.6M235.82 679.73L247.19 691.09M235.82 691.09L247.19 679.73M253.58 811.98V826.18M246.48 819.08H260.68M247.9 813.4L259.26 824.76M247.9 824.76L259.26 813.4M265.66 779.5V793.7M258.56 786.6H272.76M259.98 780.92L271.34 792.28M259.98 792.28L271.34 780.92M277.74 756.18V770.38M270.64 763.28H284.84M272.06 757.6L283.42 768.96M272.06 768.96L283.42 757.6M289.81 640V654.2M282.71 647.1H296.91M284.13 641.42L295.49 652.78M284.13 652.78L295.49 641.42M301.89 729.94V744.14M294.79 737.04H308.99M296.21 731.36L307.57 742.72M296.21 742.72L307.57 731.36M313.97 817.81V832.01M306.87 824.91H321.07M308.29 819.23L319.65 830.59M308.29 830.59L319.65 819.23M326.04 729.11V743.31M318.94 736.21H333.14M320.36 730.53L331.72 741.89M320.36 741.89L331.72 730.53M338.12 814.48V828.68M331.02 821.58H345.22M332.44 815.9L343.8 827.26M332.44 827.26L343.8 815.9M350.2 609.18V623.38M343.1 616.28H357.3M344.52 610.6L355.88 621.96M344.52 621.96L355.88 610.6M362.28 767.84V782.04M355.18 774.94H369.38M356.6 769.26L367.96 780.62M356.6 780.62L367.96 769.26M374.35 770.75V784.95M367.25 777.85H381.45M368.67 772.17L380.03 783.53M368.67 783.53L380.03 772.17M386.43 749.1V763.3M379.33 756.2H393.53M380.75 750.52L392.11 761.88M380.75 761.88L392.11 750.52M398.51 722.86V737.06M391.41 729.96H405.61M392.83 724.28L404.19 735.64M392.83 735.64L404.19 724.28M410.58 765.76V779.96M403.48 772.86H417.68M404.9 767.18L416.26 778.54M404.9 778.54L416.26 767.18M422.66 729.53V743.73M415.56 736.63H429.76M416.98 730.95L428.34 742.31M416.98 742.31L428.34 730.95M434.74 734.94V749.14M427.64 742.04H441.84M429.06 736.36L440.42 747.72M429.06 747.72L440.42 736.36M446.81 785.33V799.53M439.71 792.43H453.91M441.13 786.75L452.49 798.11M441.13 798.11L452.49 786.75M458.89 822.39V836.59M451.79 829.49H465.99M453.21 823.81L464.57 835.17M453.21 835.17L464.57 823.81M470.97 700.79V714.99M463.87 707.89H478.07M465.29 702.21L476.65 713.57M465.29 713.57L476.65 702.21M483.05 653.32V667.52M475.94 660.42H490.15M477.37 654.74L488.73 666.1M477.37 666.1L488.73 654.74M495.12 742.02V756.22M488.02 749.12H502.22M489.44 743.44L500.8 754.8M489.44 754.8L500.8 743.44M507.2 730.78V744.98M500.1 737.88H514.3M501.52 732.2L512.88 743.56M501.52 743.56L512.88 732.2M519.28 737.86V752.06M512.18 744.96H526.38M513.6 739.28L524.96 750.64M513.6 750.64L524.96 739.28M531.35 786.99V801.19M524.25 794.09H538.45M525.67 788.41L537.03 799.77M525.67 799.77L537.03 788.41M543.43 812.81V827.01M536.33 819.91H550.53M537.75 814.23L549.11 825.59M537.75 825.59L549.11 814.23M555.51 819.06V833.26M548.41 826.16H562.61M549.83 820.48L561.19 831.84M549.83 831.84L561.19 820.48M567.58 703.71V717.91M560.48 710.81H574.68M561.9 705.13L573.26 716.49M561.9 716.49L573.26 705.13M579.66 698.71V712.91M572.56 705.81H586.76M573.98 700.13L585.34 711.49M573.98 711.49L585.34 700.13M591.74 743.27V757.47M584.64 750.37H598.84M586.06 744.69L597.42 756.05M586.06 756.05L597.42 744.69M603.82 760.34V774.54M596.72 767.44H610.92M598.14 761.76L609.5 773.12M598.14 773.12L609.5 761.76M615.89 823.22V837.42M608.79 830.32H622.99M610.21 824.64L621.57 836M610.21 836L621.57 824.64M627.97 785.33V799.53M620.87 792.43H635.07M622.29 786.75L633.65 798.11M622.29 798.11L633.65 786.75M640.05 582.53V596.73M632.95 589.63H647.15M634.37 583.95L645.73 595.31M634.37 595.31L645.73 583.95M652.12 791.57V805.77M645.02 798.67H659.22M646.44 792.99L657.8 804.35M646.44 804.35L657.8 792.99M664.2 783.25V797.45M657.1 790.35H671.3M658.52 784.67L669.88 796.03M658.52 796.03L669.88 784.67" fill="none" stroke="#0000ff" stroke-width="1.4"/>
<rect x="60.35" y="505.1" width="603.85" height="499.7" fill="none" stroke="#262626" stroke-width="1.2"/>
<text x="60.35" y="1037.6" font-size="23.5" text-anchor="middle">1970</text>
<text x="181.12" y="1037.6" font-size="23.5" text-anchor="middle">1980</text>
<text x="301.89" y="1037.6" font-size="23.5" text-anchor="middle">1990</text>
<text x="422.66" y="1037.6" font-size="23.5" text-anchor="middle">2000</text>
<text x="543.43" y="1037.6" font-size="23.5" text-anchor="middle">2010</text>
<text x="664.2" y="1037.6" font-size="23.5" text-anchor="middle">2020</text>
<text x="51.6" y="1014.1" font-size="23.5" text-anchor="end">-6</text>
<text x="51.6" y="930.82" font-size="23.5" text-anchor="end">-4</text>
<text x="51.6" y="847.53" font-size="23.5" text-anchor="end">-2</text>
<text x="51.6" y="764.25" font-size="23.5" text-anchor="end">0</text>
<text x="51.6" y="680.97" font-size="23.5" text-anchor="end">2</text>
<text x="51.6" y="597.68" font-size="23.5" text-anchor="end">4</text>
<text x="51.6" y="514.4" font-size="23.5" text-anchor="end">6</text>
<text x="362.28" y="1070.4" font-size="26.5" text-anchor="middle">Year</text>
<text transform="translate(19.6 756) rotate(-90)" font-size="25.8" text-anchor="middle">ENSO-filtered TC number</text>
<text x="120.6" y="567.6" font-size="52" letter-spacing="0.7">(c)</text>
<rect x="514.3" y="910.3" width="134.2" height="78.5" fill="#fff" stroke="#262626" stroke-width="1.2"/>
<path d="M522.1 931.4H596" stroke="#ff0000" stroke-width="1.25"/>
<path d="M559 924.3V938.5M551.9 931.4H566.1M553.32 925.72L564.68 937.08M553.32 937.08L564.68 925.72" stroke="#ff0000" stroke-width="1.4" fill="none"/>
<text x="601.8" y="934.8" font-size="20.8" style="font-kerning:none" letter-spacing="0.5">TC<tspan font-size="16.6" font-style="italic" dx="0" dy="10.4" letter-spacing="0">S</tspan></text>
<path d="M522.1 968.1H596" stroke="#0000ff" stroke-width="1.25"/>
<path d="M559 961V975.2M551.9 968.1H566.1M553.32 962.42L564.68 973.78M553.32 973.78L564.68 962.42" stroke="#0000ff" stroke-width="1.4" fill="none"/>
<text x="601.8" y="971.5" font-size="20.8" style="font-kerning:none" letter-spacing="0.5">TC<tspan font-size="16.6" font-style="italic" dx="0" dy="10.4" letter-spacing="0">E</tspan></text>
</g>
<g font-family='"Liberation Sans", sans-serif' fill="#0a0a0a">
<path d="M802.1 1004.6V998.6 M802.1 504.9V510.9 M922.84 1004.6V998.6 M922.84 504.9V510.9 M1043.58 1004.6V998.6 M1043.58 504.9V510.9 M1164.32 1004.6V998.6 M1164.32 504.9V510.9 M1285.06 1004.6V998.6 M1285.06 504.9V510.9 M1405.8 1004.6V998.6 M1405.8 504.9V510.9 M802.1 1004.6H808.1 M1405.8 1004.6H1399.8 M802.1 921.32H808.1 M1405.8 921.32H1399.8 M802.1 838.03H808.1 M1405.8 838.03H1399.8 M802.1 754.75H808.1 M1405.8 754.75H1399.8 M802.1 671.47H808.1 M1405.8 671.47H1399.8 M802.1 588.18H808.1 M1405.8 588.18H1399.8 M802.1 504.9H808.1 M1405.8 504.9H1399.8" stroke="#262626" stroke-width="1.1"/>
<path d="M808.3 961.1 L811 953 L814 946.2 L819.6 941.1 L825.8 929.8 L832 917.5 L838.1 914.4 L845.3 914.9 L850.4 909.8 L858.7 912.3 L866.9 915.4 L874.1 914.9 L881.2 909.2 L885.3 909.8 L893.5 903.6 L904.8 899.2 L916.2 898.7 L926.3 900.5 L933.9 899.2 L942.9 893.1 L947.9 891.1 L952.9 892.3 L959.7 885.5 L966.4 881.3 L971.4 875.5 L979.4 874.5 L985 871 L990 866 L996 863 L1002 858 L1008 853 L1014 849.5 L1020 846 L1026 840 L1032 833 L1038 831 L1044 829 L1050 822 L1056 818 L1062 810 L1068 806 L1074 800 L1080 794.5 L1086 790 L1092 786 L1098 782.5 L1104.4 779 L1110 771 L1116.1 764.7 L1122 762.2 L1128.7 757.1 L1135.5 754.6 L1142.2 749.6 L1147.2 744.5 L1153.9 737.8 L1159 727.7 L1164.9 722.7 L1170.8 724.4 L1176.5 718.5 L1182.5 713.4 L1189.2 704.2 L1195.1 698.3 L1201 700 L1207.7 694.1 L1213.6 699.2 L1219.5 692.4 L1226.2 686.6 L1231.3 679.8 L1236.7 676 L1242.6 668.4 L1249.3 669.2 L1256.9 662.5 L1263.6 658.3 L1272 655 L1279.6 650.8 L1285.5 642.4 L1291.3 635.6 L1297.2 623.9 L1304 614.6 L1310.7 599.5 L1315 592 L1320.8 583.5 L1330.8 579.3 L1339.2 576 L1346 579.3 L1352 578 L1357.7 576.8 L1364.5 583.5 L1371.2 591.1 L1376.2 604.5 L1382.9 623.9 L1389.7 644 L1395.5 669.2 L1400.1 694.5" fill="none" stroke="#ff0000" stroke-width="2.1" stroke-linejoin="round"/>
<path d="M808.4 657.1 L814.3 657.1 L818.5 651.3 L822 643 L826.1 634.5 L831.1 632.8 L835.5 627 L840.3 621 L845.4 616 L850.4 604.2 L855.5 600.8 L862.2 593.3 L868.9 579 L874 576 L879 572.3 L885.7 562.2 L894.1 555.5 L900.8 551.3 L909.2 547.1 L917.6 541.2 L923.5 538.3 L929.4 535.3 L934.5 531.8 L939.5 528.6 L946.7 526.9 L953.4 532.3 L961.8 527.7 L970.3 524.9 L977 528.2 L983.7 527.7 L990.4 532.8 L1000.5 542.9 L1010.6 545.4 L1019 551.3 L1025.7 552.9 L1032.4 561.3 L1042.5 568.9 L1049.2 577.3 L1057.6 591.6 L1067.7 605.9 L1074.5 614.3 L1080 618.5 L1086.7 625.2 L1091.8 626.9 L1098.5 632.8 L1105.2 643.7 L1111.1 653.8 L1116.1 665.5 L1122 672.3 L1127.9 687.4 L1133.8 689.9 L1140.5 700 L1146.4 701.7 L1152.3 710.9 L1159 722.7 L1164 734.5 L1170.8 747.9 L1176.6 758 L1181.7 773.1 L1185.9 779 L1189 782.4 L1197.9 800.3 L1205.8 814.9 L1213.6 822.8 L1222.6 841.8 L1231.6 859.8 L1242.8 885.5 L1249.5 895.6 L1259.6 918 L1266 928 L1271.9 938.2 L1283.1 955 L1292.1 970.7 L1301 980.8 L1310 985.3 L1321.2 987.5 L1330.2 986.9 L1340.3 989.1 L1348.1 976.3 L1357.1 957.3 L1364 950 L1370.5 943.8 L1377.3 931.5 L1386.2 924.8 L1394.1 915.8 L1399.7 918" fill="none" stroke="#0000ff" stroke-width="2.1" stroke-linejoin="round"/>
<path d="M808.3 961.1 L811 953 L814 946.2 L819.6 941.1 L825.8 929.8 L832 917.5 L838.1 914.4 L845.3 914.9 L850.4 909.8 L858.7 912.3 L866.9 915.4 L874.1 914.9 L881.2 909.2 L885.3 909.8" fill="none" stroke="#ff0000" stroke-width="6.3" stroke-linejoin="round"/>
<path d="M1310.7 599.5 L1315 592 L1320.8 583.5 L1330.8 579.3 L1339.2 576 L1346 579.3 L1352 578 L1357.7 576.8 L1364.5 583.5 L1371.2 591.1 L1376.2 604.5" fill="none" stroke="#ff0000" stroke-width="6.3" stroke-linejoin="round"/>
<path d="M868.9 579 L874 576 L879 572.3 L885.7 562.2 L894.1 555.5 L900.8 551.3 L909.2 547.1 L917.6 541.2 L923.5 538.3 L929.4 535.3 L934.5 531.8 L939.5 528.6 L946.7 526.9 L953.4 532.3 L961.8 527.7 L970.3 524.9 L977 528.2 L983.7 527.7 L990.4 532.8 L1000.5 542.9 L1010.6 545.4 L1019 551.3 L1025.7 552.9 L1032.4 561.3 L1042.5 568.9 L1049.2 577.3 L1057.6 591.6 L1067.7 605.9" fill="none" stroke="#0000ff" stroke-width="6.3" stroke-linejoin="round"/>
<path d="M1271.9 938.2 L1283.1 955 L1292.1 970.7 L1301 980.8 L1310 985.3 L1321.2 987.5 L1330.2 986.9 L1340.3 989.1 L1348.1 976.3 L1357.1 957.3 L1364 950 L1370.5 943.8 L1377.3 931.5 L1386.2 924.8 L1394.1 915.8 L1399.7 918" fill="none" stroke="#0000ff" stroke-width="6.3" stroke-linejoin="round"/>
<rect x="802.1" y="504.9" width="603.7" height="499.7" fill="none" stroke="#262626" stroke-width="1.2"/>
<text x="802.1" y="1037.6" font-size="23.5" text-anchor="middle">0</text>
<text x="922.84" y="1037.6" font-size="23.5" text-anchor="middle">20</text>
<text x="1043.58" y="1037.6" font-size="23.5" text-anchor="middle">40</text>
<text x="1164.32" y="1037.6" font-size="23.5" text-anchor="middle">60</text>
<text x="1285.06" y="1037.6" font-size="23.5" text-anchor="middle">80</text>
<text x="1405.8" y="1037.6" font-size="23.5" text-anchor="middle">100</text>
<text x="793.4" y="1014.5" font-size="23.5" text-anchor="end">-0.6</text>
<text x="793.4" y="931.22" font-size="23.5" text-anchor="end">-0.4</text>
<text x="793.4" y="847.93" font-size="23.5" text-anchor="end">-0.2</text>
<text x="793.4" y="764.65" font-size="23.5" text-anchor="end">0</text>
<text x="793.4" y="681.37" font-size="23.5" text-anchor="end">0.2</text>
<text x="793.4" y="598.08" font-size="23.5" text-anchor="end">0.4</text>
<text x="793.4" y="514.8" font-size="23.5" text-anchor="end">0.6</text>
<text x="1103.95" y="1070.6" font-size="26" text-anchor="middle">Percentile</text>
<text transform="translate(741.2 757.6) rotate(-90)" font-size="26.6" text-anchor="middle">Correlation Coefficient</text>
<text x="832.5" y="567.6" font-size="52" letter-spacing="0.5">(d)</text>
<rect x="926.1" y="917.7" width="134" height="78.7" fill="#fff" stroke="#262626" stroke-width="1.2"/>
<path d="M933.6 938.8H1007.8" stroke="#ff0000" stroke-width="7"/>
<text x="1013.2" y="942" font-size="20.8" style="font-kerning:none" letter-spacing="0.5">TC<tspan font-size="16.6" font-style="italic" dx="0" dy="10.4" letter-spacing="0">S</tspan></text>
<path d="M933.6 975.2H1007.8" stroke="#0000ff" stroke-width="7"/>
<text x="1013.2" y="978.4" font-size="20.8" style="font-kerning:none" letter-spacing="0.5">TC<tspan font-size="16.6" font-style="italic" dx="0" dy="10.4" letter-spacing="0">E</tspan></text>
</g>
</svg></body></html>
